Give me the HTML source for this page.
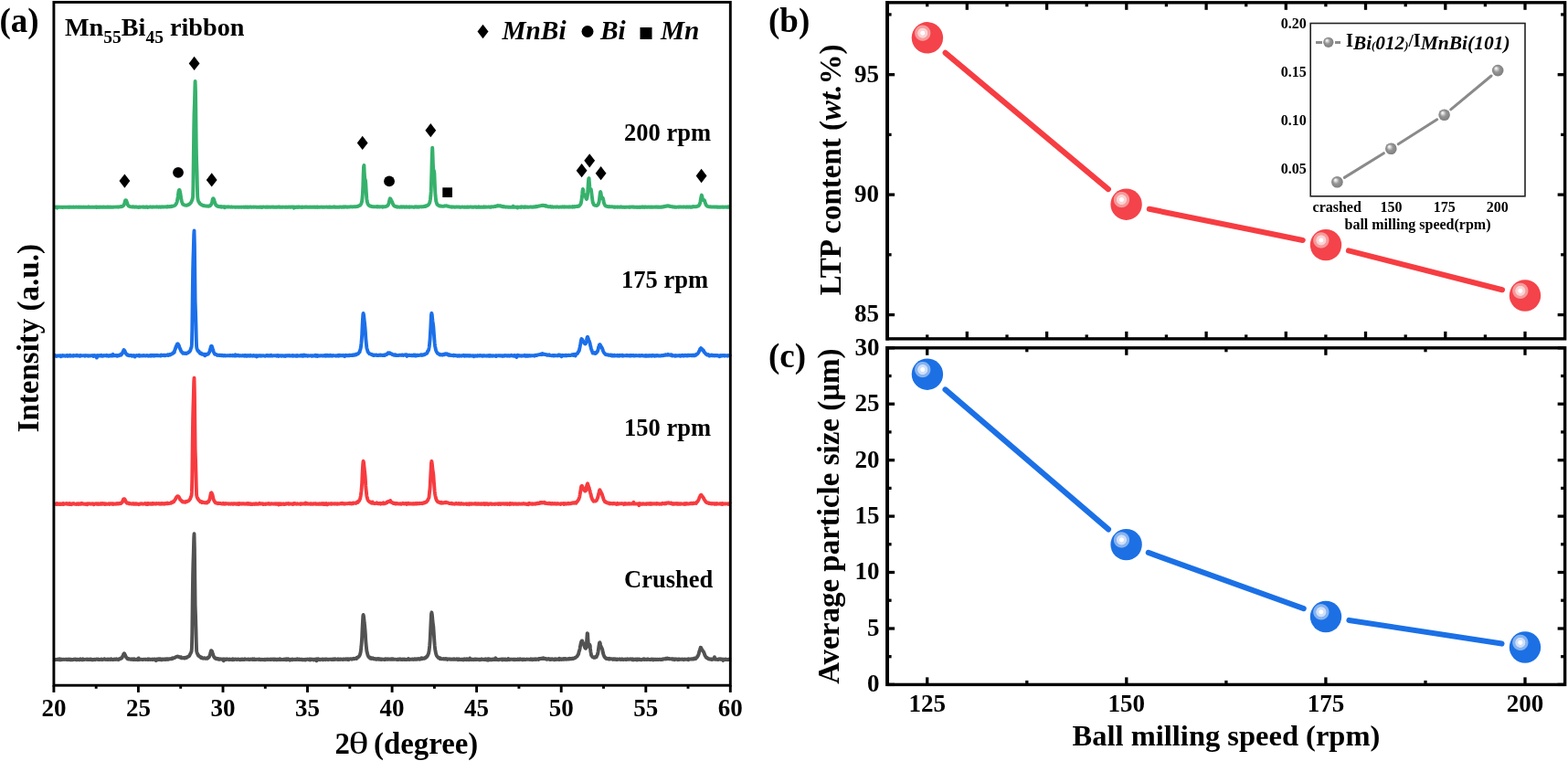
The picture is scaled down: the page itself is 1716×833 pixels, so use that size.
<!DOCTYPE html><html><head><meta charset="utf-8"><style>html,body{margin:0;padding:0;background:#fff}svg{display:block}</style></head><body><svg width="1716" height="833" viewBox="0 0 1716 833">
<defs>
<radialGradient id="gr" cx="0.35" cy="0.35" r="0.55" fx="0.35" fy="0.35"><stop offset="0" stop-color="#ffffff"/><stop offset="0.11" stop-color="#ffffff"/><stop offset="0.15" stop-color="#fcd3d4"/><stop offset="0.27" stop-color="#fcd3d4"/><stop offset="0.31" stop-color="#f79a9c"/><stop offset="0.43" stop-color="#f79a9c"/><stop offset="0.48" stop-color="#f4434a"/><stop offset="1" stop-color="#f4434a"/></radialGradient>
<radialGradient id="gb" cx="0.35" cy="0.35" r="0.55" fx="0.35" fy="0.35"><stop offset="0" stop-color="#ffffff"/><stop offset="0.11" stop-color="#ffffff"/><stop offset="0.15" stop-color="#cfe0fa"/><stop offset="0.27" stop-color="#cfe0fa"/><stop offset="0.31" stop-color="#86b3f0"/><stop offset="0.43" stop-color="#86b3f0"/><stop offset="0.48" stop-color="#1c70e4"/><stop offset="1" stop-color="#1c70e4"/></radialGradient>
<radialGradient id="gg" cx="0.5" cy="0.5" r="0.6" fx="0.33" fy="0.3"><stop offset="0" stop-color="#ffffff"/><stop offset="0.15" stop-color="#e2e2e2"/><stop offset="0.45" stop-color="#959595"/><stop offset="1" stop-color="#777"/></radialGradient>
</defs>
<rect width="1716" height="833" fill="#fff"/>
<g font-family="Liberation Serif, serif" font-weight="bold" fill="#000">
<path d="M58.9,226.7 59.3,226.7 59.6,226.7 60.0,226.8 60.4,226.7 60.8,226.8 61.1,226.7 61.5,226.5 61.9,226.7 62.2,226.8 62.6,227.6 63.0,226.6 63.3,226.7 63.7,226.8 64.1,226.7 64.5,226.6 64.8,226.8 65.2,226.7 65.6,226.9 65.9,226.8 66.3,226.9 66.7,226.7 67.0,226.8 67.4,226.7 67.8,226.7 68.2,226.7 68.5,227.0 68.9,226.8 69.3,226.7 69.6,226.7 70.0,226.9 70.4,226.7 70.7,226.8 71.1,226.8 71.5,226.6 71.9,226.8 72.2,226.7 72.6,226.6 73.0,226.8 73.3,226.7 73.7,226.7 74.1,226.7 74.4,226.8 74.8,226.7 75.2,226.5 75.6,226.9 75.9,226.6 76.3,226.7 76.7,226.8 77.0,226.4 77.4,226.6 77.8,226.8 78.2,226.7 78.5,226.6 78.9,226.7 79.3,226.6 79.6,226.7 80.0,226.6 80.4,226.5 80.7,226.8 81.1,226.7 81.5,226.7 81.9,226.7 82.2,226.8 82.6,226.8 83.0,226.7 83.3,226.6 83.7,226.5 84.1,226.8 84.4,226.8 84.8,226.6 85.2,226.9 85.6,226.7 85.9,226.7 86.3,226.5 86.7,226.6 87.0,226.7 87.4,226.7 87.8,226.7 88.1,226.5 88.5,226.7 88.9,226.7 89.3,226.6 89.6,226.7 90.0,226.7 90.4,226.8 90.7,226.7 91.1,226.7 91.5,226.5 91.8,226.6 92.2,226.7 92.6,226.6 93.0,226.7 93.3,226.6 93.7,226.7 94.1,226.6 94.4,226.8 94.8,226.6 95.2,226.9 95.5,226.9 95.9,226.7 96.3,226.8 96.7,226.7 97.0,226.4 97.4,226.8 97.8,226.8 98.1,226.7 98.5,226.6 98.9,226.7 99.3,226.7 99.6,226.6 100.0,226.6 100.4,226.8 100.7,226.7 101.1,226.7 101.5,226.8 101.8,226.6 102.2,226.8 102.6,226.6 103.0,226.6 103.3,226.7 103.7,226.7 104.1,226.7 104.4,226.9 104.8,226.8 105.2,226.6 105.5,226.9 105.9,226.6 106.3,226.9 106.7,226.6 107.0,226.8 107.4,226.6 107.8,226.7 108.1,226.9 108.5,226.5 108.9,226.5 109.2,226.7 109.6,226.7 110.0,226.7 110.4,226.8 110.7,226.5 111.1,226.7 111.5,226.7 111.8,226.8 112.2,226.7 112.6,226.8 112.9,226.5 113.3,226.7 113.7,226.5 114.1,226.7 114.4,226.7 114.8,226.7 115.2,226.7 115.5,226.7 115.9,226.7 116.3,226.7 116.7,226.8 117.0,226.7 117.4,226.4 117.8,226.7 118.1,226.8 118.5,226.6 118.9,226.5 119.2,226.8 119.6,226.7 120.0,226.7 120.4,226.8 120.7,226.5 121.1,226.6 121.5,226.6 121.8,226.7 122.2,226.6 122.6,226.7 122.9,226.6 123.3,226.7 123.7,226.8 124.1,226.5 124.4,226.7 124.8,226.6 125.2,226.6 125.5,226.6 125.9,226.6 126.3,226.5 126.6,226.6 127.0,226.6 127.4,226.6 127.8,226.4 128.1,226.5 128.5,226.5 128.9,226.6 129.2,226.7 129.6,226.4 130.0,226.4 130.3,226.5 130.7,226.4 131.1,226.3 131.5,226.3 131.8,226.2 132.2,226.4 132.6,226.1 132.9,226.3 133.3,226.0 133.7,225.9 134.1,225.8 134.4,225.4 134.8,225.2 135.2,225.1 135.5,224.6 135.9,223.5 136.3,222.6 136.6,221.2 137.0,219.7 137.4,219.2 137.8,219.1 138.1,219.3 138.5,220.2 138.9,221.3 139.2,222.5 139.6,223.6 140.0,224.5 140.3,224.9 140.7,225.5 141.1,225.8 141.5,225.8 141.8,226.0 142.2,226.0 142.6,226.3 142.9,226.3 143.3,226.4 143.7,226.4 144.0,226.3 144.4,226.5 144.8,226.4 145.2,226.4 145.5,226.2 145.9,226.6 146.3,226.4 146.6,226.5 147.0,226.5 147.4,226.7 147.7,226.6 148.1,226.4 148.5,226.6 148.9,226.5 149.2,226.6 149.6,226.4 150.0,226.6 150.3,226.8 150.7,226.7 151.1,226.8 151.4,227.0 151.8,226.6 152.2,226.4 152.6,226.6 152.9,226.7 153.3,226.7 153.7,226.5 154.0,226.6 154.4,226.6 154.8,226.6 155.2,226.6 155.5,226.5 155.9,226.5 156.3,226.6 156.6,226.7 157.0,226.5 157.4,226.7 157.7,226.5 158.1,226.7 158.5,226.6 158.9,226.6 159.2,226.8 159.6,226.4 160.0,226.4 160.3,226.6 160.7,226.5 161.1,226.5 161.4,226.9 161.8,226.6 162.2,226.6 162.6,226.6 162.9,226.7 163.3,226.6 163.7,226.6 164.0,226.4 164.4,226.5 164.8,226.6 165.1,226.4 165.5,226.6 165.9,226.6 166.3,226.8 166.6,226.4 167.0,226.5 167.4,226.5 167.7,226.5 168.1,226.6 168.5,226.5 168.8,226.6 169.2,226.6 169.6,226.6 170.0,226.4 170.3,226.5 170.7,226.6 171.1,226.6 171.4,226.6 171.8,226.3 172.2,226.5 172.6,226.5 172.9,226.6 173.3,226.7 173.7,226.5 174.0,226.4 174.4,226.6 174.8,226.5 175.1,226.5 175.5,226.5 175.9,226.7 176.3,226.5 176.6,226.6 177.0,226.4 177.4,226.6 177.7,226.4 178.1,226.3 178.5,226.5 178.8,226.5 179.2,226.4 179.6,226.4 180.0,226.5 180.3,226.4 180.7,226.2 181.1,226.4 181.4,226.4 181.8,226.5 182.2,226.3 182.5,226.5 182.9,226.5 183.3,226.1 183.7,226.4 184.0,226.1 184.4,226.1 184.8,226.2 185.1,226.1 185.5,225.9 185.9,226.2 186.2,226.2 186.6,226.2 187.0,226.0 187.4,225.8 187.7,225.8 188.1,226.0 188.5,225.9 188.8,225.8 189.2,225.6 189.6,225.6 190.0,225.4 190.3,225.3 190.7,225.2 191.1,225.0 191.4,224.8 191.8,224.5 192.2,224.1 192.5,223.4 192.9,223.0 193.3,222.1 193.7,221.1 194.0,219.3 194.4,217.5 194.8,215.0 195.1,212.0 195.5,209.5 195.9,208.0 196.2,207.8 196.6,208.3 197.0,209.8 197.4,211.7 197.7,213.8 198.1,216.4 198.5,218.6 198.8,220.3 199.2,221.4 199.6,222.4 199.9,223.2 200.3,223.5 200.7,224.0 201.1,224.0 201.4,224.2 201.8,224.3 202.2,224.6 202.5,224.6 202.9,224.7 203.3,224.7 203.6,224.7 204.0,224.8 204.4,224.8 204.8,224.4 205.1,224.5 205.5,224.3 205.9,224.1 206.2,224.2 206.6,223.9 207.0,223.6 207.4,223.3 207.7,223.1 208.1,222.6 208.5,222.3 208.8,221.9 209.2,221.3 209.6,220.4 209.9,219.7 210.3,219.0 210.7,217.6 211.1,215.6 211.4,204.1 211.8,172.9 212.2,140.7 212.5,124.9 212.9,113.2 213.3,97.8 213.6,88.9 214.0,99.7 214.4,131.0 214.8,162.4 215.1,176.1 215.5,187.4 215.9,204.3 216.2,215.3 216.6,218.5 217.0,219.7 217.3,220.5 217.7,221.2 218.1,221.8 218.5,222.4 218.8,222.9 219.2,223.2 219.6,223.6 219.9,223.9 220.3,224.0 220.7,224.1 221.0,224.6 221.4,224.6 221.8,224.8 222.2,225.0 222.5,224.9 222.9,225.2 223.3,225.0 223.6,225.4 224.0,225.3 224.4,225.4 224.7,225.5 225.1,225.4 225.5,225.6 225.9,225.5 226.2,225.6 226.6,225.7 227.0,225.6 227.3,225.6 227.7,225.5 228.1,225.7 228.5,225.5 228.8,225.7 229.2,225.3 229.6,225.4 229.9,225.3 230.3,224.9 230.7,224.4 231.0,224.1 231.4,223.3 231.8,222.1 232.2,220.7 232.5,219.0 232.9,217.8 233.3,217.2 233.6,217.4 234.0,218.2 234.4,219.0 234.7,220.3 235.1,221.6 235.5,222.9 235.9,223.4 236.2,224.4 236.6,224.8 237.0,225.2 237.3,225.4 237.7,225.6 238.1,225.5 238.4,226.0 238.8,226.1 239.2,226.1 239.6,226.2 239.9,226.0 240.3,226.1 240.7,226.3 241.0,226.4 241.4,226.3 241.8,226.1 242.1,226.7 242.5,226.3 242.9,226.5 243.3,226.2 243.6,226.5 244.0,226.4 244.4,226.6 244.7,226.5 245.1,226.3 245.5,226.3 245.9,227.3 246.2,226.6 246.6,226.7 247.0,226.5 247.3,226.5 247.7,226.5 248.1,226.5 248.4,226.6 248.8,226.5 249.2,226.5 249.6,226.4 249.9,226.3 250.3,226.5 250.7,226.6 251.0,226.5 251.4,226.6 251.8,226.6 252.1,226.6 252.5,226.7 252.9,226.5 253.3,226.6 253.6,226.5 254.0,226.6 254.4,226.7 254.7,226.7 255.1,226.6 255.5,226.6 255.8,226.6 256.2,226.6 256.6,226.7 257.0,226.6 257.3,226.7 257.7,226.7 258.1,226.6 258.4,226.8 258.8,226.6 259.2,226.6 259.5,226.6 259.9,226.7 260.3,226.6 260.7,226.7 261.0,226.6 261.4,226.7 261.8,226.6 262.1,226.8 262.5,226.6 262.9,226.6 263.3,226.6 263.6,226.7 264.0,226.6 264.4,226.8 264.7,226.6 265.1,226.6 265.5,226.6 265.8,226.6 266.2,226.7 266.6,226.7 267.0,226.5 267.3,226.6 267.7,226.6 268.1,226.8 268.4,226.6 268.8,226.5 269.2,226.5 269.5,226.6 269.9,226.8 270.3,226.5 270.7,226.7 271.0,226.9 271.4,226.6 271.8,226.8 272.1,226.8 272.5,226.7 272.9,226.5 273.2,226.7 273.6,226.6 274.0,226.4 274.4,226.5 274.7,226.7 275.1,226.7 275.5,226.8 275.8,226.7 276.2,226.6 276.6,226.6 276.9,226.6 277.3,226.5 277.7,226.7 278.1,226.7 278.4,226.6 278.8,226.6 279.2,226.5 279.5,226.6 279.9,226.7 280.3,226.6 280.6,226.8 281.0,226.8 281.4,226.6 281.8,226.7 282.1,226.6 282.5,226.9 282.9,226.7 283.2,226.7 283.6,226.8 284.0,226.9 284.4,226.7 284.7,226.5 285.1,226.6 285.5,226.7 285.8,226.7 286.2,226.6 286.6,227.0 286.9,226.7 287.3,226.6 287.7,226.6 288.1,226.5 288.4,226.5 288.8,226.6 289.2,226.6 289.5,226.6 289.9,226.7 290.3,226.7 290.6,226.6 291.0,226.4 291.4,226.7 291.8,226.7 292.1,226.6 292.5,226.5 292.9,226.7 293.2,226.5 293.6,226.8 294.0,226.7 294.3,226.7 294.7,226.6 295.1,226.5 295.5,226.8 295.8,226.8 296.2,226.6 296.6,226.7 296.9,226.8 297.3,226.5 297.7,226.6 298.0,226.6 298.4,226.7 298.8,226.5 299.2,226.7 299.5,226.5 299.9,226.8 300.3,226.8 300.6,226.6 301.0,226.8 301.4,226.6 301.8,226.6 302.1,226.8 302.5,226.7 302.9,226.7 303.2,226.6 303.6,226.7 304.0,226.7 304.3,226.5 304.7,226.4 305.1,226.4 305.5,226.7 305.8,226.6 306.2,226.5 306.6,226.7 306.9,226.8 307.3,226.7 307.7,226.6 308.0,226.8 308.4,226.9 308.8,226.8 309.2,226.6 309.5,226.8 309.9,226.7 310.3,226.6 310.6,226.6 311.0,226.7 311.4,226.6 311.7,226.8 312.1,226.7 312.5,226.8 312.9,226.5 313.2,226.7 313.6,226.8 314.0,226.7 314.3,226.7 314.7,226.6 315.1,226.9 315.4,226.8 315.8,226.7 316.2,226.4 316.6,226.6 316.9,226.7 317.3,226.6 317.7,226.4 318.0,226.7 318.4,226.7 318.8,226.5 319.2,226.6 319.5,226.6 319.9,226.7 320.3,226.4 320.6,226.5 321.0,226.6 321.4,226.6 321.7,227.7 322.1,226.6 322.5,226.7 322.9,226.6 323.2,226.6 323.6,226.7 324.0,226.9 324.3,226.6 324.7,226.8 325.1,226.7 325.4,226.7 325.8,226.7 326.2,226.9 326.6,226.5 326.9,226.6 327.3,226.5 327.7,226.4 328.0,226.7 328.4,226.9 328.8,226.8 329.1,226.8 329.5,226.7 329.9,226.7 330.3,226.9 330.6,226.6 331.0,226.9 331.4,226.6 331.7,226.7 332.1,226.7 332.5,226.7 332.8,226.7 333.2,226.7 333.6,226.9 334.0,226.7 334.3,226.4 334.7,226.4 335.1,226.5 335.4,226.6 335.8,226.8 336.2,226.5 336.5,226.7 336.9,226.7 337.3,226.7 337.7,226.7 338.0,226.7 338.4,226.7 338.8,226.8 339.1,226.7 339.5,226.4 339.9,226.7 340.3,226.7 340.6,226.6 341.0,226.6 341.4,226.8 341.7,226.9 342.1,226.6 342.5,226.6 342.8,226.7 343.2,226.5 343.6,226.7 344.0,226.7 344.3,226.7 344.7,226.5 345.1,226.9 345.4,226.7 345.8,226.7 346.2,226.6 346.5,226.6 346.9,226.5 347.3,226.9 347.7,226.6 348.0,226.7 348.4,226.7 348.8,226.6 349.1,226.8 349.5,226.9 349.9,226.7 350.2,226.8 350.6,226.7 351.0,226.6 351.4,226.6 351.7,226.5 352.1,226.7 352.5,226.8 352.8,226.8 353.2,226.8 353.6,226.8 353.9,226.6 354.3,226.7 354.7,226.9 355.1,226.6 355.4,226.7 355.8,226.6 356.2,226.6 356.5,226.6 356.9,226.7 357.3,226.5 357.7,226.6 358.0,226.6 358.4,226.6 358.8,226.8 359.1,226.7 359.5,226.7 359.9,226.6 360.2,226.8 360.6,226.5 361.0,226.6 361.4,226.8 361.7,226.9 362.1,226.7 362.5,226.7 362.8,226.7 363.2,226.6 363.6,226.7 363.9,226.6 364.3,226.7 364.7,226.6 365.1,226.5 365.4,226.3 365.8,226.8 366.2,226.7 366.5,226.7 366.9,226.5 367.3,226.8 367.6,226.7 368.0,226.6 368.4,226.8 368.8,226.7 369.1,226.7 369.5,226.9 369.9,226.8 370.2,226.7 370.6,226.6 371.0,226.6 371.3,226.8 371.7,226.7 372.1,226.5 372.5,226.6 372.8,226.6 373.2,226.7 373.6,226.5 373.9,226.7 374.3,226.7 374.7,226.7 375.1,226.4 375.4,226.6 375.8,226.5 376.2,226.7 376.5,226.5 376.9,226.7 377.3,226.6 377.6,226.3 378.0,226.5 378.4,226.6 378.8,226.6 379.1,226.5 379.5,226.4 379.9,226.6 380.2,226.8 380.6,226.6 381.0,226.5 381.3,226.5 381.7,226.4 382.1,226.5 382.5,226.4 382.8,226.6 383.2,226.4 383.6,226.2 383.9,226.4 384.3,226.4 384.7,226.4 385.0,226.2 385.4,226.5 385.8,226.4 386.2,226.3 386.5,226.3 386.9,226.4 387.3,226.3 387.6,226.4 388.0,226.3 388.4,226.3 388.7,226.4 389.1,226.2 389.5,226.1 389.9,226.2 390.2,226.1 390.6,225.9 391.0,226.1 391.3,225.9 391.7,225.9 392.1,225.6 392.5,225.3 392.8,225.2 393.2,225.3 393.6,225.0 393.9,224.8 394.3,224.4 394.7,223.8 395.0,223.6 395.4,222.6 395.8,221.5 396.2,219.6 396.5,216.7 396.9,211.8 397.3,203.6 397.6,192.6 398.0,182.5 398.4,181.0 398.7,188.0 399.1,194.7 399.5,196.8 399.9,197.1 400.2,200.2 400.6,206.7 401.0,212.7 401.3,217.4 401.7,220.3 402.1,221.9 402.4,222.9 402.8,223.9 403.2,224.1 403.6,224.7 403.9,225.1 404.3,225.0 404.7,225.4 405.0,225.7 405.4,225.7 405.8,225.6 406.1,225.7 406.5,226.0 406.9,225.9 407.3,225.9 407.6,226.2 408.0,226.1 408.4,226.2 408.7,226.3 409.1,226.3 409.5,226.2 409.8,226.3 410.2,226.4 410.6,226.4 411.0,226.2 411.3,226.3 411.7,226.2 412.1,226.2 412.4,226.3 412.8,226.1 413.2,226.5 413.6,226.3 413.9,226.4 414.3,226.2 414.7,226.2 415.0,226.6 415.4,226.5 415.8,226.3 416.1,226.3 416.5,226.3 416.9,226.4 417.3,226.3 417.6,226.3 418.0,226.4 418.4,226.2 418.7,226.6 419.1,226.3 419.5,226.4 419.8,226.2 420.2,226.3 420.6,226.4 421.0,226.2 421.3,226.3 421.7,226.2 422.1,226.2 422.4,226.0 422.8,225.8 423.2,225.6 423.5,225.6 423.9,225.2 424.3,225.0 424.7,224.5 425.0,223.7 425.4,222.6 425.8,221.4 426.1,219.7 426.5,218.2 426.9,217.2 427.2,217.5 427.6,218.0 428.0,218.9 428.4,219.4 428.7,220.1 429.1,220.8 429.5,221.9 429.8,223.1 430.2,223.7 430.6,224.5 431.0,224.8 431.3,225.3 431.7,225.7 432.1,225.8 432.4,225.9 432.8,226.0 433.2,226.1 433.5,226.2 433.9,226.4 434.3,226.3 434.7,226.6 435.0,226.3 435.4,226.4 435.8,226.5 436.1,226.4 436.5,226.4 436.9,226.6 437.2,226.7 437.6,226.6 438.0,226.7 438.4,226.6 438.7,226.3 439.1,226.6 439.5,226.4 439.8,226.7 440.2,226.5 440.6,226.6 440.9,226.5 441.3,226.5 441.7,226.3 442.1,226.5 442.4,226.5 442.8,226.7 443.2,226.5 443.5,226.6 443.9,226.4 444.3,226.5 444.6,226.3 445.0,226.8 445.4,226.6 445.8,226.4 446.1,226.6 446.5,226.6 446.9,226.6 447.2,226.7 447.6,226.5 448.0,226.3 448.4,226.4 448.7,226.7 449.1,226.6 449.5,226.6 449.8,226.4 450.2,226.6 450.6,226.6 450.9,226.4 451.3,226.4 451.7,226.6 452.1,226.7 452.4,226.7 452.8,226.6 453.2,226.8 453.5,226.4 453.9,226.6 454.3,226.4 454.6,226.3 455.0,226.3 455.4,226.6 455.8,226.4 456.1,226.7 456.5,226.5 456.9,226.6 457.2,226.5 457.6,226.6 458.0,226.2 458.3,226.7 458.7,226.5 459.1,226.4 459.5,226.4 459.8,226.3 460.2,226.3 460.6,226.3 460.9,226.2 461.3,226.5 461.7,226.2 462.0,226.3 462.4,226.2 462.8,226.1 463.2,226.2 463.5,226.2 463.9,225.9 464.3,225.9 464.6,226.0 465.0,225.6 465.4,225.5 465.7,225.9 466.1,225.6 466.5,225.2 466.9,225.3 467.2,225.2 467.6,225.1 468.0,224.9 468.3,224.6 468.7,224.3 469.1,223.7 469.5,223.3 469.8,222.6 470.2,221.8 470.6,220.3 470.9,218.5 471.3,215.1 471.7,209.4 472.0,200.4 472.4,186.8 472.8,170.7 473.2,161.6 473.5,167.6 473.9,179.6 474.3,187.2 474.6,188.8 475.0,187.0 475.4,190.0 475.7,198.5 476.1,207.1 476.5,213.5 476.9,217.5 477.2,220.1 477.6,221.4 478.0,222.7 478.3,223.6 478.7,223.9 479.1,224.5 479.4,224.6 479.8,224.7 480.2,225.0 480.6,225.4 480.9,225.5 481.3,225.3 481.7,225.6 482.0,225.7 482.4,225.6 482.8,225.5 483.1,225.7 483.5,225.8 483.9,225.8 484.3,225.8 484.6,225.9 485.0,225.9 485.4,225.8 485.7,225.8 486.1,225.6 486.5,225.6 486.9,225.2 487.2,225.6 487.6,225.4 488.0,225.4 488.3,225.3 488.7,225.3 489.1,225.5 489.4,225.6 489.8,225.8 490.2,225.8 490.6,225.8 490.9,225.9 491.3,226.1 491.7,226.2 492.0,226.2 492.4,226.2 492.8,226.4 493.1,226.4 493.5,226.6 493.9,226.6 494.3,226.3 494.6,226.7 495.0,226.5 495.4,226.5 495.7,226.6 496.1,226.6 496.5,226.5 496.8,226.5 497.2,226.6 497.6,226.8 498.0,226.6 498.3,226.7 498.7,226.6 499.1,226.5 499.4,226.5 499.8,226.5 500.2,226.6 500.5,226.5 500.9,226.4 501.3,226.5 501.7,226.4 502.0,226.6 502.4,226.6 502.8,226.5 503.1,226.8 503.5,226.6 503.9,226.7 504.3,226.8 504.6,226.8 505.0,226.7 505.4,226.6 505.7,226.5 506.1,226.5 506.5,226.6 506.8,226.6 507.2,226.7 507.6,226.6 508.0,226.7 508.3,226.6 508.7,226.4 509.1,226.6 509.4,226.8 509.8,226.7 510.2,226.8 510.5,226.8 510.9,226.5 511.3,226.6 511.7,226.8 512.0,226.6 512.4,226.5 512.8,226.7 513.1,226.7 513.5,226.7 513.9,226.6 514.2,226.6 514.6,226.5 515.0,226.5 515.4,226.5 515.7,226.5 516.1,226.6 516.5,226.8 516.8,226.7 517.2,226.6 517.6,226.7 517.9,226.5 518.3,226.7 518.7,226.8 519.1,226.5 519.4,226.6 519.8,226.6 520.2,226.5 520.5,226.5 520.9,226.6 521.3,226.9 521.6,226.7 522.0,226.9 522.4,226.8 522.8,226.6 523.1,226.5 523.5,226.7 523.9,226.8 524.2,226.4 524.6,226.7 525.0,226.8 525.4,226.6 525.7,226.6 526.1,226.7 526.5,226.5 526.8,226.7 527.2,226.8 527.6,226.6 527.9,226.6 528.3,226.7 528.7,226.6 529.1,226.7 529.4,226.3 529.8,226.7 530.2,226.5 530.5,226.6 530.9,226.7 531.3,226.5 531.6,226.5 532.0,226.5 532.4,226.6 532.8,226.7 533.1,226.7 533.5,226.6 533.9,226.6 534.2,226.5 534.6,226.6 535.0,226.5 535.3,226.4 535.7,226.6 536.1,226.8 536.5,226.7 536.8,226.8 537.2,226.4 537.6,226.7 537.9,226.4 538.3,226.4 538.7,226.3 539.0,226.3 539.4,226.4 539.8,226.4 540.2,226.3 540.5,226.2 540.9,226.2 541.3,226.1 541.6,225.8 542.0,226.1 542.4,225.8 542.8,225.8 543.1,225.6 543.5,225.4 543.9,225.4 544.2,225.2 544.6,225.5 545.0,225.1 545.3,225.3 545.7,225.1 546.1,225.2 546.5,225.5 546.8,225.4 547.2,225.3 547.6,225.2 547.9,225.5 548.3,225.6 548.7,225.9 549.0,225.6 549.4,225.7 549.8,226.0 550.2,226.1 550.5,226.4 550.9,226.1 551.3,226.0 551.6,226.3 552.0,226.3 552.4,226.4 552.7,226.6 553.1,226.4 553.5,226.7 553.9,226.6 554.2,226.5 554.6,226.5 555.0,226.5 555.3,226.6 555.7,226.7 556.1,226.8 556.4,226.6 556.8,226.7 557.2,226.8 557.6,226.8 557.9,226.7 558.3,226.9 558.7,226.8 559.0,226.8 559.4,226.6 559.8,226.6 560.2,226.4 560.5,226.8 560.9,226.7 561.3,226.5 561.6,225.7 562.0,226.7 562.4,226.4 562.7,226.7 563.1,226.8 563.5,226.8 563.9,226.6 564.2,226.6 564.6,226.8 565.0,226.8 565.3,226.6 565.7,226.6 566.1,226.7 566.4,227.4 566.8,226.6 567.2,226.9 567.6,226.7 567.9,226.6 568.3,226.7 568.7,226.9 569.0,226.7 569.4,226.6 569.8,226.5 570.1,226.9 570.5,226.3 570.9,226.8 571.3,226.5 571.6,226.6 572.0,226.5 572.4,226.6 572.7,226.8 573.1,226.6 573.5,226.7 573.8,226.9 574.2,226.3 574.6,226.5 575.0,226.4 575.3,226.7 575.7,226.5 576.1,226.4 576.4,226.4 576.8,226.6 577.2,226.8 577.6,226.6 577.9,226.9 578.3,226.8 578.7,226.6 579.0,226.7 579.4,226.6 579.8,226.6 580.1,226.4 580.5,226.4 580.9,226.6 581.3,226.4 581.6,226.7 582.0,226.6 582.4,226.5 582.7,226.7 583.1,226.6 583.5,226.7 583.8,226.5 584.2,226.3 584.6,226.6 585.0,226.4 585.3,226.5 585.7,226.5 586.1,226.5 586.4,226.1 586.8,225.7 587.2,226.1 587.5,226.2 587.9,226.0 588.3,226.0 588.7,225.8 589.0,225.8 589.4,225.7 589.8,225.5 590.1,225.6 590.5,225.5 590.9,225.5 591.2,225.3 591.6,225.3 592.0,225.1 592.4,225.1 592.7,224.9 593.1,224.8 593.5,225.0 593.8,225.0 594.2,225.0 594.6,224.8 594.9,224.7 595.3,224.9 595.7,225.1 596.1,225.0 596.4,225.4 596.8,225.1 597.2,225.5 597.5,225.8 597.9,225.3 598.3,225.5 598.7,225.9 599.0,225.9 599.4,226.0 599.8,226.0 600.1,226.3 600.5,226.3 600.9,226.2 601.2,226.3 601.6,226.2 602.0,226.4 602.4,226.1 602.7,226.5 603.1,226.4 603.5,226.7 603.8,226.6 604.2,226.3 604.6,226.6 604.9,226.5 605.3,226.5 605.7,226.7 606.1,226.6 606.4,226.6 606.8,226.6 607.2,226.5 607.5,226.5 607.9,226.6 608.3,226.7 608.6,226.5 609.0,226.6 609.4,226.5 609.8,226.3 610.1,226.5 610.5,226.6 610.9,226.6 611.2,226.7 611.6,226.7 612.0,226.7 612.3,226.6 612.7,226.6 613.1,226.5 613.5,226.6 613.8,226.6 614.2,226.7 614.6,226.4 614.9,226.5 615.3,226.3 615.7,226.5 616.1,226.4 616.4,226.6 616.8,226.5 617.2,226.2 617.5,226.7 617.9,226.4 618.3,226.3 618.6,226.5 619.0,226.4 619.4,226.4 619.8,226.6 620.1,226.5 620.5,226.6 620.9,226.6 621.2,226.6 621.6,226.5 622.0,226.5 622.3,226.4 622.7,226.7 623.1,226.2 623.5,226.3 623.8,226.4 624.2,226.5 624.6,226.4 624.9,226.4 625.3,226.4 625.7,226.6 626.0,226.3 626.4,226.0 626.8,226.6 627.2,226.2 627.5,226.3 627.9,226.3 628.3,226.1 628.6,226.4 629.0,226.2 629.4,226.0 629.7,226.2 630.1,226.2 630.5,226.1 630.9,226.1 631.2,225.8 631.6,226.0 632.0,225.7 632.3,225.9 632.7,225.5 633.1,225.5 633.5,225.7 633.8,225.2 634.2,225.1 634.6,224.7 634.9,224.0 635.3,223.8 635.7,222.9 636.0,221.3 636.4,219.4 636.8,216.3 637.2,212.7 637.5,209.0 637.9,206.9 638.3,207.9 638.6,210.8 639.0,213.3 639.4,214.5 639.7,214.3 640.1,213.6 640.5,213.2 640.9,214.6 641.2,216.5 641.6,217.6 642.0,217.9 642.3,217.2 642.7,215.4 643.1,212.0 643.4,206.8 643.8,200.8 644.2,195.7 644.6,195.1 644.9,199.3 645.3,204.2 645.7,207.4 646.0,208.6 646.4,208.1 646.8,207.3 647.1,208.8 647.5,212.2 647.9,215.6 648.3,218.6 648.6,220.8 649.0,222.1 649.4,223.0 649.7,223.9 650.1,224.1 650.5,224.4 650.8,224.6 651.2,224.9 651.6,224.9 652.0,224.9 652.3,224.9 652.7,225.0 653.1,224.7 653.4,224.9 653.8,224.6 654.2,224.1 654.6,223.9 654.9,223.2 655.3,221.9 655.7,220.4 656.0,217.9 656.4,214.6 656.8,211.2 657.1,209.9 657.5,210.9 657.9,213.6 658.3,216.0 658.6,217.2 659.0,217.3 659.4,216.6 659.7,216.7 660.1,217.8 660.5,219.7 660.8,221.6 661.2,222.9 661.6,223.7 662.0,224.5 662.3,225.1 662.7,225.3 663.1,225.6 663.4,225.6 663.8,225.7 664.2,226.0 664.5,226.0 664.9,225.9 665.3,226.2 665.7,226.1 666.0,226.3 666.4,226.3 666.8,226.3 667.1,226.0 667.5,226.4 667.9,226.4 668.2,226.4 668.6,226.4 669.0,226.3 669.4,226.4 669.7,226.2 670.1,226.4 670.5,226.3 670.8,226.4 671.2,226.4 671.6,226.7 672.0,226.5 672.3,226.5 672.7,226.5 673.1,226.8 673.4,226.4 673.8,226.6 674.2,226.6 674.5,226.6 674.9,226.6 675.3,226.5 675.7,226.7 676.0,226.7 676.4,226.5 676.8,226.5 677.1,226.6 677.5,226.6 677.9,226.7 678.2,226.6 678.6,226.4 679.0,226.7 679.4,226.4 679.7,226.5 680.1,226.6 680.5,226.5 680.8,226.8 681.2,226.8 681.6,226.8 681.9,226.7 682.3,226.6 682.7,226.7 683.1,226.6 683.4,226.9 683.8,226.6 684.2,226.8 684.5,226.7 684.9,226.7 685.3,226.8 685.6,226.8 686.0,226.7 686.4,226.6 686.8,226.6 687.1,226.6 687.5,226.7 687.9,226.7 688.2,226.7 688.6,226.6 689.0,226.9 689.4,226.5 689.7,226.7 690.1,226.7 690.5,226.6 690.8,226.5 691.2,226.6 691.6,226.5 691.9,226.6 692.3,226.5 692.7,226.5 693.1,226.7 693.4,226.5 693.8,226.6 694.2,226.6 694.5,226.8 694.9,226.7 695.3,226.6 695.6,226.8 696.0,226.6 696.4,226.6 696.8,226.6 697.1,226.9 697.5,226.7 697.9,226.6 698.2,226.7 698.6,226.6 699.0,226.9 699.3,226.6 699.7,226.7 700.1,226.5 700.5,226.9 700.8,226.6 701.2,226.7 701.6,226.6 701.9,226.8 702.3,226.7 702.7,226.4 703.0,226.8 703.4,226.7 703.8,226.7 704.2,226.8 704.5,226.5 704.9,226.4 705.3,226.7 705.6,226.9 706.0,226.5 706.4,226.5 706.7,226.6 707.1,226.5 707.5,226.8 707.9,226.7 708.2,226.8 708.6,226.8 709.0,226.5 709.3,226.7 709.7,226.4 710.1,226.6 710.5,226.7 710.8,226.6 711.2,226.4 711.6,226.6 711.9,226.8 712.3,226.6 712.7,226.5 713.0,226.7 713.4,226.7 713.8,226.5 714.2,226.6 714.5,226.8 714.9,226.7 715.3,226.7 715.6,226.6 716.0,226.6 716.4,226.5 716.7,226.6 717.1,226.8 717.5,226.6 717.9,226.5 718.2,226.6 718.6,226.5 719.0,226.7 719.3,226.7 719.7,226.5 720.1,226.8 720.4,226.9 720.8,226.5 721.2,226.7 721.6,226.6 721.9,226.8 722.3,226.7 722.7,226.7 723.0,226.6 723.4,226.5 723.8,226.8 724.1,226.4 724.5,226.6 724.9,226.6 725.3,226.3 725.6,226.3 726.0,226.5 726.4,226.0 726.7,226.2 727.1,226.0 727.5,226.0 727.9,225.7 728.2,225.9 728.6,225.6 729.0,225.8 729.3,225.5 729.7,225.6 730.1,225.5 730.4,225.2 730.8,225.4 731.2,225.5 731.6,225.2 731.9,225.5 732.3,225.7 732.7,225.6 733.0,225.9 733.4,225.7 733.8,225.8 734.1,226.1 734.5,226.1 734.9,226.1 735.3,226.2 735.6,226.4 736.0,226.3 736.4,226.6 736.7,226.5 737.1,226.5 737.5,226.5 737.8,226.5 738.2,226.7 738.6,226.5 739.0,226.6 739.3,226.7 739.7,226.8 740.1,226.7 740.4,226.6 740.8,226.7 741.2,226.6 741.5,226.5 741.9,226.5 742.3,226.4 742.7,226.7 743.0,226.8 743.4,226.5 743.8,226.6 744.1,226.5 744.5,226.6 744.9,226.5 745.3,226.5 745.6,226.5 746.0,226.6 746.4,226.6 746.7,226.6 747.1,226.6 747.5,226.5 747.8,226.7 748.2,226.4 748.6,226.6 749.0,226.5 749.3,226.6 749.7,226.6 750.1,226.4 750.4,226.6 750.8,226.8 751.2,226.7 751.5,226.6 751.9,226.3 752.3,226.6 752.7,226.5 753.0,226.7 753.4,226.5 753.8,226.5 754.1,226.4 754.5,226.6 754.9,226.5 755.2,226.5 755.6,226.7 756.0,226.5 756.4,226.6 756.7,226.8 757.1,226.4 757.5,226.4 757.8,226.5 758.2,226.1 758.6,226.3 758.9,226.4 759.3,226.3 759.7,226.2 760.1,226.4 760.4,226.2 760.8,226.3 761.2,226.3 761.5,226.2 761.9,226.2 762.3,226.0 762.7,226.0 763.0,225.9 763.4,225.8 763.8,225.6 764.1,225.6 764.5,225.3 764.9,224.9 765.2,224.5 765.6,223.7 766.0,222.7 766.4,220.9 766.7,219.1 767.1,216.9 767.5,214.9 767.8,213.6 768.2,214.4 768.6,216.1 768.9,217.8 769.3,218.9 769.7,219.2 770.1,219.3 770.4,218.8 770.8,219.2 771.2,219.8 771.5,221.2 771.9,222.2 772.3,223.5 772.6,224.2 773.0,224.7 773.4,225.0 773.8,225.6 774.1,225.7 774.5,226.0 774.9,225.9 775.2,226.1 775.6,226.2 776.0,226.3 776.3,226.3 776.7,226.4 777.1,226.3 777.5,226.2 777.8,226.6 778.2,226.4 778.6,226.5 778.9,226.4 779.3,226.6 779.7,226.5 780.0,226.6 780.4,226.4 780.8,226.5 781.2,226.6 781.5,226.5 781.9,226.6 782.3,226.7 782.6,226.5 783.0,226.5 783.4,226.6 783.8,226.5 784.1,226.4 784.5,226.7 784.9,226.7 785.2,226.4 785.6,226.4 786.0,226.7 786.3,226.8 786.7,226.7 787.1,226.7 787.5,226.8 787.8,226.6 788.2,226.8 788.6,226.8 788.9,226.5 789.3,226.7 789.7,226.6 790.0,226.6 790.4,226.5 790.8,226.7 791.2,226.6 791.5,226.7 791.9,226.4 792.3,226.6 792.6,226.8 793.0,226.7 793.4,226.6 793.7,226.6 794.1,226.4 794.5,226.5 794.9,226.7 795.2,226.7 795.6,226.8 796.0,226.6 796.3,226.6 796.7,226.3 797.1,226.7 797.4,226.9 797.8,226.7 798.2,226.7 798.6,226.8 798.9,226.8 799.3,226.7" fill="none" stroke="#36b16c" stroke-width="3.9" stroke-linejoin="round"/>
<path d="M58.9,389.4 59.3,389.6 59.6,389.3 60.0,389.1 60.4,389.5 60.8,389.6 61.1,389.3 61.5,389.7 61.9,389.9 62.2,389.5 62.6,389.5 63.0,389.4 63.3,389.5 63.7,389.3 64.1,389.4 64.5,389.5 64.8,389.5 65.2,389.2 65.6,389.2 65.9,389.2 66.3,389.2 66.7,390.1 67.0,389.6 67.4,389.4 67.8,389.3 68.2,389.7 68.5,389.1 68.9,389.3 69.3,389.5 69.6,389.3 70.0,389.4 70.4,389.5 70.7,389.3 71.1,389.5 71.5,389.7 71.9,389.5 72.2,389.4 72.6,389.6 73.0,389.1 73.3,389.6 73.7,389.0 74.1,389.2 74.4,389.6 74.8,389.3 75.2,389.1 75.6,389.4 75.9,389.6 76.3,389.3 76.7,388.9 77.0,389.7 77.4,389.2 77.8,389.4 78.2,389.4 78.5,389.5 78.9,389.4 79.3,389.1 79.6,389.2 80.0,389.6 80.4,389.0 80.7,389.6 81.1,389.2 81.5,389.3 81.9,389.1 82.2,389.3 82.6,389.1 83.0,389.4 83.3,389.1 83.7,389.3 84.1,388.9 84.4,389.5 84.8,389.1 85.2,389.3 85.6,389.3 85.9,389.5 86.3,389.3 86.7,389.7 87.0,389.7 87.4,389.2 87.8,389.7 88.1,389.0 88.5,389.4 88.9,389.3 89.3,389.3 89.6,389.3 90.0,389.4 90.4,389.4 90.7,389.4 91.1,389.1 91.5,389.1 91.8,389.1 92.2,389.3 92.6,389.4 93.0,389.7 93.3,389.2 93.7,389.2 94.1,389.4 94.4,389.2 94.8,389.1 95.2,389.3 95.5,389.1 95.9,389.3 96.3,389.7 96.7,389.5 97.0,389.4 97.4,389.2 97.8,389.5 98.1,389.4 98.5,389.6 98.9,389.4 99.3,389.3 99.6,389.1 100.0,389.2 100.4,389.3 100.7,389.3 101.1,389.3 101.5,389.3 101.8,389.0 102.2,389.9 102.6,389.4 103.0,389.3 103.3,389.1 103.7,389.6 104.1,389.3 104.4,389.2 104.8,389.4 105.2,389.8 105.5,389.4 105.9,391.6 106.3,389.2 106.7,389.5 107.0,389.0 107.4,389.3 107.8,389.5 108.1,389.5 108.5,389.6 108.9,389.3 109.2,389.0 109.6,389.4 110.0,389.1 110.4,389.5 110.7,389.3 111.1,388.8 111.5,389.6 111.8,389.1 112.2,389.1 112.6,389.7 112.9,389.6 113.3,389.5 113.7,389.1 114.1,389.4 114.4,389.4 114.8,389.2 115.2,389.3 115.5,389.3 115.9,389.4 116.3,389.1 116.7,389.5 117.0,388.9 117.4,389.4 117.8,389.5 118.1,389.2 118.5,389.2 118.9,389.7 119.2,389.3 119.6,389.6 120.0,389.5 120.4,389.1 120.7,389.5 121.1,389.2 121.5,389.4 121.8,388.9 122.2,389.3 122.6,389.5 122.9,389.5 123.3,389.5 123.7,387.8 124.1,389.3 124.4,389.0 124.8,389.2 125.2,389.2 125.5,389.2 125.9,389.3 126.3,389.2 126.6,389.0 127.0,389.0 127.4,389.3 127.8,389.6 128.1,389.3 128.5,389.1 128.9,389.7 129.2,389.2 129.6,388.9 130.0,389.1 130.3,389.2 130.7,388.5 131.1,388.5 131.5,388.8 131.8,388.3 132.2,388.2 132.6,388.5 132.9,387.3 133.3,387.6 133.7,387.0 134.1,386.4 134.4,385.3 134.8,384.7 135.2,383.6 135.5,383.0 135.9,383.3 136.3,383.9 136.6,384.2 137.0,385.5 137.4,386.0 137.8,387.0 138.1,387.4 138.5,387.9 138.9,388.2 139.2,388.4 139.6,388.8 140.0,388.3 140.3,388.7 140.7,388.9 141.1,389.2 141.5,389.1 141.8,389.2 142.2,389.1 142.6,389.0 142.9,389.1 143.3,389.3 143.7,389.1 144.0,389.5 144.4,389.8 144.8,389.2 145.2,389.6 145.5,389.4 145.9,389.5 146.3,389.1 146.6,389.5 147.0,389.2 147.4,389.3 147.7,390.5 148.1,389.6 148.5,389.1 148.9,389.2 149.2,389.1 149.6,388.9 150.0,389.2 150.3,389.2 150.7,389.3 151.1,389.2 151.4,389.3 151.8,389.5 152.2,388.8 152.6,389.7 152.9,389.2 153.3,389.2 153.7,389.2 154.0,389.5 154.4,389.3 154.8,389.4 155.2,389.5 155.5,389.3 155.9,389.4 156.3,389.4 156.6,389.1 157.0,389.5 157.4,389.2 157.7,389.4 158.1,389.2 158.5,389.2 158.9,389.2 159.2,389.5 159.6,389.4 160.0,389.4 160.3,389.2 160.7,389.1 161.1,389.0 161.4,389.4 161.8,389.2 162.2,389.6 162.6,389.7 162.9,389.4 163.3,389.4 163.7,389.6 164.0,389.6 164.4,389.1 164.8,389.4 165.1,389.6 165.5,388.7 165.9,389.2 166.3,389.3 166.6,389.1 167.0,389.4 167.4,388.9 167.7,389.5 168.1,389.5 168.5,389.2 168.8,389.4 169.2,388.9 169.6,389.5 170.0,389.3 170.3,389.1 170.7,389.0 171.1,388.9 171.4,389.1 171.8,388.7 172.2,389.3 172.6,389.1 172.9,388.9 173.3,389.2 173.7,389.2 174.0,389.2 174.4,389.2 174.8,389.3 175.1,389.2 175.5,389.4 175.9,389.0 176.3,389.4 176.6,388.6 177.0,388.7 177.4,388.8 177.7,389.1 178.1,389.1 178.5,388.7 178.8,388.9 179.2,388.8 179.6,389.1 180.0,388.7 180.3,389.1 180.7,388.8 181.1,389.2 181.4,389.0 181.8,388.7 182.2,388.8 182.5,388.8 182.9,388.5 183.3,388.7 183.7,388.3 184.0,389.1 184.4,388.4 184.8,388.3 185.1,388.7 185.5,388.6 185.9,388.0 186.2,388.4 186.6,388.2 187.0,387.8 187.4,387.8 187.7,387.5 188.1,387.6 188.5,387.1 188.8,386.7 189.2,386.5 189.6,386.7 190.0,385.6 190.3,385.2 190.7,385.9 191.1,383.5 191.4,383.4 191.8,381.7 192.2,381.2 192.5,379.7 192.9,379.0 193.3,378.3 193.7,377.2 194.0,376.6 194.4,376.3 194.8,376.4 195.1,377.2 195.5,377.6 195.9,378.4 196.2,379.6 196.6,380.8 197.0,381.8 197.4,382.3 197.7,383.1 198.1,384.2 198.5,384.9 198.8,384.9 199.2,385.9 199.6,385.9 199.9,386.4 200.3,386.8 200.7,386.6 201.1,386.8 201.4,386.5 201.8,386.4 202.2,387.0 202.5,386.7 202.9,386.7 203.3,387.0 203.6,387.1 204.0,386.5 204.4,386.8 204.8,386.6 205.1,386.5 205.5,386.3 205.9,386.2 206.2,385.6 206.6,385.2 207.0,385.2 207.4,385.0 207.7,384.2 208.1,383.9 208.5,383.0 208.8,381.8 209.2,380.6 209.6,379.9 209.9,377.1 210.3,360.5 210.7,326.8 211.1,298.0 211.4,284.5 211.8,272.2 212.2,257.2 212.5,252.5 212.9,268.3 213.3,302.8 213.6,329.8 214.0,341.0 214.4,354.4 214.8,371.1 215.1,379.2 215.5,381.6 215.9,382.7 216.2,383.5 216.6,383.9 217.0,384.7 217.3,384.9 217.7,384.4 218.1,385.6 218.5,386.3 218.8,386.6 219.2,387.1 219.6,387.1 219.9,386.9 220.3,386.6 220.7,387.7 221.0,387.7 221.4,387.5 221.8,387.6 222.2,387.9 222.5,387.8 222.9,388.3 223.3,388.0 223.6,387.8 224.0,387.7 224.4,389.3 224.7,388.1 225.1,388.0 225.5,387.8 225.9,387.9 226.2,388.1 226.6,387.8 227.0,387.6 227.3,387.8 227.7,387.7 228.1,387.0 228.5,386.6 228.8,385.9 229.2,385.3 229.6,384.3 229.9,382.9 230.3,381.5 230.7,380.0 231.0,378.9 231.4,378.8 231.8,378.9 232.2,380.2 232.5,381.1 232.9,382.5 233.3,383.4 233.6,384.8 234.0,385.9 234.4,386.4 234.7,387.1 235.1,387.7 235.5,387.5 235.9,387.9 236.2,387.9 236.6,388.1 237.0,388.3 237.3,388.5 237.7,388.9 238.1,388.5 238.4,388.7 238.8,388.6 239.2,388.8 239.6,389.0 239.9,389.1 240.3,388.8 240.7,388.7 241.0,389.0 241.4,388.9 241.8,388.7 242.1,389.2 242.5,389.1 242.9,389.3 243.3,388.8 243.6,389.0 244.0,389.2 244.4,389.5 244.7,389.2 245.1,388.9 245.5,389.2 245.9,389.2 246.2,389.0 246.6,389.4 247.0,389.2 247.3,389.1 247.7,389.4 248.1,389.4 248.4,389.1 248.8,389.2 249.2,389.3 249.6,389.2 249.9,389.2 250.3,389.4 250.7,389.4 251.0,389.1 251.4,389.0 251.8,388.9 252.1,389.4 252.5,389.0 252.9,389.1 253.3,389.2 253.6,389.2 254.0,389.1 254.4,388.9 254.7,389.5 255.1,389.1 255.5,389.3 255.8,389.3 256.2,389.0 256.6,389.1 257.0,389.5 257.3,389.3 257.7,388.3 258.1,389.6 258.4,389.1 258.8,389.3 259.2,389.3 259.5,389.2 259.9,388.9 260.3,389.3 260.7,389.4 261.0,388.9 261.4,389.4 261.8,389.4 262.1,389.6 262.5,389.1 262.9,389.2 263.3,389.2 263.6,389.3 264.0,389.3 264.4,389.5 264.7,389.5 265.1,389.2 265.5,389.3 265.8,389.0 266.2,389.5 266.6,389.4 267.0,389.5 267.3,389.0 267.7,389.6 268.1,389.2 268.4,389.0 268.8,389.4 269.2,389.2 269.5,389.8 269.9,389.4 270.3,389.7 270.7,389.3 271.0,389.3 271.4,389.5 271.8,389.1 272.1,389.3 272.5,389.4 272.9,389.4 273.2,389.7 273.6,389.4 274.0,388.9 274.4,389.5 274.7,389.2 275.1,389.5 275.5,389.2 275.8,389.2 276.2,389.4 276.6,389.7 276.9,389.5 277.3,389.1 277.7,389.4 278.1,389.2 278.4,389.4 278.8,389.7 279.2,389.3 279.5,389.3 279.9,389.5 280.3,389.4 280.6,389.3 281.0,390.5 281.4,389.3 281.8,389.4 282.1,389.9 282.5,389.4 282.9,389.5 283.2,389.5 283.6,389.3 284.0,389.5 284.4,389.2 284.7,389.1 285.1,389.3 285.5,389.7 285.8,389.5 286.2,389.2 286.6,389.4 286.9,389.5 287.3,389.4 287.7,389.2 288.1,389.3 288.4,389.2 288.8,389.5 289.2,389.4 289.5,389.4 289.9,389.4 290.3,389.8 290.6,389.4 291.0,389.6 291.4,389.1 291.8,389.0 292.1,389.0 292.5,389.2 292.9,389.5 293.2,389.1 293.6,389.4 294.0,389.2 294.3,389.6 294.7,389.5 295.1,389.3 295.5,389.0 295.8,389.4 296.2,388.9 296.6,388.8 296.9,389.6 297.3,389.4 297.7,389.6 298.0,389.4 298.4,389.5 298.8,389.4 299.2,389.1 299.5,389.2 299.9,389.3 300.3,389.4 300.6,389.3 301.0,389.3 301.4,389.2 301.8,389.4 302.1,389.3 302.5,389.6 302.9,389.2 303.2,389.0 303.6,389.3 304.0,389.7 304.3,389.1 304.7,389.4 305.1,390.0 305.5,389.4 305.8,389.2 306.2,389.3 306.6,389.1 306.9,389.2 307.3,389.3 307.7,389.8 308.0,389.6 308.4,389.3 308.8,389.2 309.2,389.6 309.5,389.5 309.9,389.3 310.3,389.8 310.6,389.8 311.0,389.4 311.4,389.3 311.7,389.5 312.1,389.9 312.5,389.4 312.9,389.7 313.2,389.2 313.6,389.4 314.0,389.3 314.3,389.2 314.7,389.5 315.1,389.2 315.4,389.1 315.8,389.3 316.2,389.1 316.6,389.5 316.9,389.2 317.3,389.3 317.7,389.6 318.0,389.4 318.4,389.5 318.8,389.5 319.2,389.3 319.5,389.1 319.9,389.4 320.3,389.3 320.6,389.7 321.0,389.3 321.4,389.1 321.7,389.2 322.1,389.3 322.5,389.5 322.9,389.6 323.2,389.4 323.6,389.7 324.0,389.6 324.3,389.2 324.7,389.6 325.1,389.0 325.4,389.7 325.8,389.3 326.2,389.6 326.6,389.3 326.9,389.6 327.3,389.4 327.7,389.4 328.0,389.5 328.4,389.2 328.8,389.0 329.1,389.5 329.5,389.2 329.9,389.3 330.3,389.4 330.6,388.9 331.0,389.8 331.4,389.5 331.7,389.8 332.1,389.4 332.5,389.4 332.8,388.5 333.2,389.3 333.6,389.0 334.0,389.1 334.3,389.5 334.7,389.3 335.1,389.0 335.4,389.3 335.8,389.3 336.2,389.2 336.5,389.7 336.9,389.5 337.3,389.3 337.7,389.2 338.0,389.6 338.4,389.4 338.8,389.4 339.1,389.4 339.5,389.2 339.9,389.3 340.3,389.3 340.6,389.7 341.0,389.6 341.4,389.3 341.7,389.7 342.1,389.3 342.5,389.5 342.8,389.5 343.2,389.2 343.6,389.5 344.0,389.5 344.3,389.5 344.7,389.3 345.1,388.7 345.4,389.8 345.8,389.4 346.2,389.4 346.5,389.1 346.9,389.4 347.3,389.9 347.7,389.1 348.0,389.6 348.4,389.4 348.8,389.6 349.1,389.6 349.5,389.5 349.9,389.2 350.2,389.2 350.6,389.5 351.0,389.2 351.4,389.4 351.7,389.3 352.1,389.3 352.5,389.2 352.8,389.5 353.2,389.4 353.6,389.3 353.9,389.3 354.3,389.5 354.7,389.0 355.1,389.4 355.4,389.2 355.8,389.3 356.2,389.1 356.5,389.8 356.9,388.9 357.3,389.4 357.7,389.6 358.0,389.3 358.4,388.8 358.8,389.2 359.1,389.6 359.5,389.4 359.9,389.0 360.2,389.6 360.6,389.4 361.0,389.4 361.4,388.8 361.7,389.4 362.1,389.0 362.5,389.5 362.8,389.5 363.2,389.1 363.6,389.2 363.9,389.7 364.3,389.2 364.7,389.2 365.1,389.4 365.4,389.2 365.8,389.2 366.2,389.4 366.5,389.4 366.9,389.4 367.3,389.3 367.6,389.6 368.0,389.3 368.4,389.6 368.8,389.3 369.1,389.3 369.5,389.5 369.9,389.1 370.2,388.8 370.6,389.0 371.0,389.6 371.3,389.0 371.7,388.8 372.1,389.3 372.5,389.4 372.8,389.2 373.2,388.9 373.6,389.1 373.9,389.3 374.3,389.4 374.7,389.3 375.1,389.1 375.4,388.8 375.8,389.4 376.2,389.2 376.5,389.3 376.9,389.3 377.3,390.1 377.6,389.0 378.0,389.5 378.4,389.4 378.8,388.9 379.1,389.1 379.5,389.0 379.9,389.2 380.2,389.2 380.6,389.0 381.0,389.2 381.3,389.3 381.7,389.0 382.1,388.8 382.5,389.2 382.8,388.8 383.2,388.8 383.6,389.1 383.9,388.9 384.3,388.9 384.7,388.7 385.0,388.7 385.4,389.1 385.8,389.1 386.2,388.5 386.5,388.7 386.9,388.6 387.3,388.5 387.6,388.2 388.0,388.8 388.4,388.2 388.7,388.5 389.1,388.1 389.5,387.9 389.9,388.3 390.2,387.5 390.6,387.8 391.0,387.7 391.3,387.4 391.7,387.4 392.1,387.1 392.5,386.4 392.8,386.0 393.2,385.8 393.6,385.3 393.9,383.7 394.3,382.8 394.7,381.3 395.0,379.4 395.4,376.0 395.8,371.4 396.2,365.8 396.5,358.0 396.9,350.7 397.3,344.6 397.6,342.9 398.0,344.6 398.4,347.9 398.7,350.9 399.1,354.2 399.5,358.5 399.9,363.6 400.2,369.0 400.6,373.4 401.0,377.4 401.3,380.3 401.7,382.1 402.1,383.2 402.4,384.7 402.8,385.3 403.2,386.0 403.6,386.3 403.9,386.7 404.3,387.2 404.7,387.3 405.0,387.3 405.4,387.4 405.8,387.6 406.1,387.8 406.5,388.2 406.9,388.3 407.3,388.1 407.6,388.6 408.0,388.4 408.4,388.9 408.7,388.6 409.1,388.7 409.5,388.9 409.8,388.5 410.2,388.9 410.6,388.8 411.0,388.8 411.3,388.9 411.7,388.5 412.1,388.9 412.4,388.8 412.8,389.1 413.2,389.0 413.6,389.0 413.9,389.0 414.3,389.0 414.7,388.9 415.0,388.6 415.4,388.9 415.8,388.9 416.1,389.0 416.5,388.4 416.9,388.6 417.3,388.8 417.6,388.7 418.0,389.0 418.4,388.9 418.7,388.8 419.1,388.8 419.5,389.0 419.8,388.9 420.2,388.6 420.6,388.5 421.0,389.0 421.3,388.4 421.7,388.1 422.1,388.3 422.4,388.0 422.8,388.2 423.2,387.5 423.5,387.6 423.9,387.5 424.3,387.1 424.7,386.3 425.0,386.8 425.4,386.8 425.8,386.4 426.1,386.4 426.5,386.2 426.9,386.9 427.2,387.1 427.6,387.1 428.0,387.1 428.4,387.3 428.7,387.4 429.1,388.1 429.5,388.2 429.8,388.2 430.2,388.1 430.6,388.3 431.0,388.6 431.3,388.8 431.7,388.5 432.1,388.5 432.4,388.2 432.8,388.9 433.2,388.5 433.5,389.1 433.9,389.0 434.3,389.1 434.7,389.0 435.0,389.1 435.4,389.1 435.8,388.9 436.1,389.0 436.5,388.8 436.9,388.9 437.2,388.9 437.6,388.6 438.0,388.8 438.4,388.8 438.7,388.8 439.1,388.8 439.5,388.7 439.8,388.9 440.2,388.5 440.6,388.4 440.9,388.4 441.3,388.8 441.7,389.0 442.1,388.7 442.4,388.6 442.8,388.4 443.2,388.6 443.5,388.7 443.9,388.3 444.3,388.7 444.6,388.4 445.0,388.4 445.4,389.9 445.8,388.6 446.1,388.8 446.5,388.9 446.9,389.1 447.2,389.1 447.6,388.7 448.0,388.9 448.4,388.7 448.7,389.0 449.1,388.9 449.5,388.9 449.8,389.2 450.2,389.3 450.6,388.8 450.9,388.9 451.3,389.2 451.7,389.0 452.1,388.8 452.4,388.6 452.8,389.2 453.2,388.9 453.5,388.5 453.9,389.0 454.3,388.7 454.6,389.6 455.0,388.7 455.4,389.0 455.8,389.4 456.1,388.8 456.5,388.7 456.9,388.7 457.2,388.7 457.6,388.9 458.0,389.1 458.3,389.0 458.7,388.9 459.1,388.8 459.5,388.9 459.8,388.8 460.2,388.6 460.6,388.7 460.9,388.2 461.3,388.2 461.7,388.9 462.0,388.7 462.4,388.8 462.8,388.7 463.2,388.3 463.5,388.5 463.9,388.4 464.3,388.2 464.6,387.8 465.0,388.0 465.4,387.8 465.7,387.4 466.1,387.3 466.5,387.0 466.9,386.6 467.2,386.7 467.6,386.0 468.0,384.6 468.3,384.7 468.7,383.9 469.1,383.1 469.5,381.0 469.8,379.2 470.2,375.4 470.6,371.1 470.9,365.4 471.3,359.0 471.7,350.4 472.0,344.4 472.4,342.8 472.8,344.7 473.2,348.9 473.5,351.8 473.9,354.2 474.3,357.5 474.6,361.3 475.0,366.8 475.4,372.0 475.7,375.7 476.1,378.8 476.5,380.9 476.9,382.9 477.2,383.7 477.6,384.6 478.0,385.4 478.3,385.8 478.7,386.5 479.1,387.0 479.4,387.0 479.8,387.2 480.2,387.5 480.6,387.8 480.9,388.2 481.3,387.8 481.7,388.0 482.0,388.4 482.4,388.2 482.8,388.1 483.1,388.3 483.5,388.1 483.9,388.1 484.3,388.6 484.6,388.3 485.0,388.1 485.4,387.9 485.7,387.7 486.1,388.3 486.5,387.8 486.9,387.5 487.2,387.3 487.6,387.2 488.0,387.7 488.3,387.6 488.7,387.8 489.1,387.4 489.4,388.0 489.8,387.6 490.2,387.8 490.6,388.0 490.9,388.8 491.3,388.6 491.7,388.4 492.0,389.0 492.4,388.8 492.8,388.9 493.1,388.7 493.5,388.9 493.9,389.0 494.3,389.1 494.6,389.1 495.0,389.1 495.4,389.0 495.7,389.2 496.1,388.9 496.5,389.5 496.8,388.9 497.2,389.2 497.6,388.9 498.0,389.2 498.3,389.0 498.7,388.9 499.1,389.3 499.4,389.2 499.8,389.3 500.2,389.2 500.5,389.6 500.9,389.3 501.3,389.3 501.7,389.4 502.0,389.3 502.4,389.6 502.8,389.0 503.1,389.2 503.5,389.6 503.9,389.5 504.3,389.5 504.6,389.2 505.0,389.6 505.4,389.2 505.7,389.4 506.1,389.4 506.5,389.2 506.8,389.3 507.2,388.9 507.6,389.2 508.0,389.6 508.3,389.1 508.7,389.6 509.1,389.3 509.4,389.6 509.8,389.5 510.2,389.0 510.5,389.4 510.9,389.5 511.3,389.4 511.7,389.4 512.0,389.0 512.4,389.6 512.8,389.6 513.1,389.2 513.5,389.7 513.9,389.4 514.2,389.1 514.6,389.3 515.0,389.4 515.4,389.5 515.7,389.5 516.1,389.5 516.5,389.3 516.8,389.1 517.2,389.1 517.6,389.5 517.9,389.5 518.3,389.2 518.7,390.2 519.1,389.4 519.4,389.4 519.8,389.6 520.2,389.6 520.5,389.3 520.9,389.7 521.3,389.5 521.6,389.5 522.0,389.3 522.4,389.6 522.8,389.1 523.1,389.4 523.5,389.4 523.9,389.4 524.2,389.5 524.6,389.6 525.0,389.1 525.4,389.3 525.7,389.4 526.1,389.1 526.5,389.5 526.8,389.2 527.2,389.4 527.6,389.5 527.9,389.2 528.3,389.7 528.7,389.2 529.1,389.5 529.4,389.3 529.8,389.1 530.2,389.2 530.5,389.5 530.9,389.4 531.3,389.4 531.6,389.6 532.0,389.6 532.4,389.4 532.8,389.2 533.1,389.7 533.5,389.4 533.9,389.3 534.2,389.3 534.6,389.6 535.0,389.1 535.3,389.6 535.7,389.2 536.1,389.0 536.5,389.8 536.8,389.3 537.2,389.3 537.6,389.3 537.9,389.5 538.3,389.4 538.7,389.7 539.0,389.3 539.4,389.3 539.8,389.5 540.2,389.6 540.5,389.5 540.9,389.4 541.3,389.4 541.6,389.4 542.0,389.4 542.4,389.7 542.8,390.0 543.1,389.2 543.5,389.1 543.9,389.7 544.2,389.5 544.6,389.3 545.0,389.2 545.3,389.2 545.7,389.1 546.1,389.4 546.5,389.3 546.8,389.3 547.2,389.5 547.6,389.1 547.9,389.2 548.3,389.2 548.7,389.5 549.0,389.2 549.4,389.6 549.8,389.3 550.2,389.9 550.5,389.6 550.9,389.2 551.3,389.5 551.6,389.3 552.0,389.7 552.4,389.0 552.7,389.2 553.1,389.4 553.5,389.3 553.9,389.3 554.2,389.1 554.6,389.3 555.0,389.7 555.3,389.4 555.7,389.1 556.1,389.2 556.4,389.5 556.8,389.2 557.2,389.3 557.6,389.2 557.9,389.7 558.3,389.6 558.7,389.2 559.0,389.4 559.4,389.3 559.8,388.9 560.2,389.4 560.5,389.3 560.9,389.5 561.3,389.5 561.6,389.4 562.0,389.7 562.4,389.8 562.7,389.1 563.1,389.4 563.5,389.1 563.9,389.3 564.2,389.3 564.6,389.2 565.0,389.2 565.3,391.0 565.7,389.1 566.1,389.6 566.4,389.3 566.8,388.8 567.2,389.3 567.6,389.0 567.9,389.4 568.3,389.2 568.7,389.3 569.0,389.3 569.4,389.5 569.8,389.6 570.1,389.3 570.5,389.7 570.9,389.5 571.3,389.2 571.6,389.5 572.0,389.5 572.4,389.6 572.7,389.3 573.1,389.4 573.5,389.3 573.8,389.4 574.2,388.9 574.6,389.4 575.0,389.8 575.3,389.3 575.7,389.3 576.1,389.3 576.4,389.7 576.8,389.1 577.2,389.3 577.6,389.3 577.9,389.7 578.3,389.2 578.7,389.3 579.0,389.0 579.4,389.4 579.8,389.6 580.1,389.3 580.5,389.5 580.9,389.2 581.3,389.5 581.6,389.3 582.0,389.3 582.4,389.3 582.7,389.4 583.1,389.4 583.5,389.2 583.8,389.3 584.2,389.2 584.6,389.2 585.0,389.6 585.3,389.1 585.7,388.8 586.1,389.0 586.4,388.9 586.8,388.8 587.2,389.0 587.5,389.1 587.9,388.6 588.3,388.4 588.7,388.5 589.0,388.4 589.4,388.3 589.8,388.3 590.1,388.2 590.5,388.1 590.9,387.9 591.2,388.1 591.6,388.0 592.0,387.6 592.4,387.8 592.7,388.1 593.1,387.6 593.5,388.0 593.8,387.1 594.2,387.4 594.6,387.4 594.9,387.8 595.3,387.9 595.7,387.8 596.1,387.8 596.4,388.1 596.8,388.0 597.2,388.0 597.5,388.1 597.9,388.5 598.3,388.8 598.7,388.5 599.0,388.7 599.4,388.5 599.8,388.4 600.1,388.4 600.5,388.8 600.9,388.7 601.2,388.4 601.6,389.0 602.0,389.0 602.4,388.9 602.7,389.1 603.1,389.2 603.5,389.3 603.8,389.2 604.2,389.3 604.6,389.0 604.9,389.3 605.3,388.9 605.7,389.0 606.1,389.5 606.4,389.0 606.8,389.3 607.2,388.9 607.5,389.1 607.9,389.2 608.3,389.1 608.6,389.3 609.0,389.1 609.4,389.1 609.8,389.2 610.1,389.1 610.5,389.4 610.9,389.1 611.2,388.4 611.6,389.1 612.0,389.1 612.3,389.0 612.7,389.3 613.1,388.6 613.5,389.2 613.8,389.1 614.2,389.3 614.6,390.2 614.9,389.3 615.3,388.9 615.7,389.3 616.1,389.1 616.4,389.2 616.8,388.9 617.2,389.2 617.5,389.3 617.9,389.0 618.3,389.3 618.6,389.3 619.0,388.9 619.4,389.5 619.8,388.9 620.1,389.1 620.5,389.2 620.9,389.0 621.2,388.9 621.6,389.1 622.0,389.0 622.3,388.8 622.7,388.8 623.1,388.9 623.5,389.1 623.8,389.1 624.2,389.0 624.6,388.7 624.9,388.7 625.3,388.7 625.7,388.4 626.0,388.7 626.4,388.7 626.8,388.7 627.2,388.1 627.5,388.9 627.9,388.4 628.3,388.3 628.6,388.3 629.0,387.7 629.4,387.8 629.7,389.5 630.1,388.0 630.5,387.6 630.9,387.6 631.2,387.3 631.6,387.0 632.0,386.9 632.3,386.2 632.7,385.5 633.1,385.0 633.5,384.4 633.8,383.8 634.2,381.8 634.6,380.2 634.9,378.5 635.3,376.4 635.7,374.0 636.0,372.5 636.4,371.0 636.8,371.2 637.2,371.6 637.5,372.2 637.9,373.2 638.3,373.4 638.6,373.8 639.0,374.7 639.4,375.0 639.7,376.0 640.1,376.3 640.5,376.5 640.9,376.2 641.2,375.3 641.6,374.2 642.0,372.3 642.3,370.7 642.7,369.0 643.1,368.8 643.4,369.9 643.8,370.5 644.2,371.8 644.6,373.0 644.9,373.7 645.3,374.7 645.7,376.2 646.0,377.7 646.4,379.2 646.8,381.0 647.1,382.1 647.5,383.3 647.9,384.3 648.3,385.1 648.6,386.4 649.0,385.7 649.4,386.1 649.7,386.6 650.1,386.5 650.5,386.7 650.8,386.6 651.2,386.0 651.6,386.9 652.0,386.6 652.3,386.6 652.7,386.3 653.1,385.3 653.4,385.0 653.8,384.9 654.2,383.5 654.6,382.6 654.9,380.9 655.3,379.7 655.7,378.4 656.0,377.5 656.4,377.1 656.8,377.4 657.1,378.1 657.5,378.7 657.9,379.2 658.3,380.1 658.6,380.5 659.0,381.2 659.4,382.2 659.7,383.0 660.1,384.4 660.5,385.1 660.8,385.9 661.2,386.2 661.6,386.9 662.0,387.2 662.3,387.4 662.7,388.1 663.1,387.9 663.4,388.3 663.8,388.3 664.2,388.4 664.5,388.3 664.9,388.4 665.3,388.2 665.7,388.6 666.0,388.8 666.4,388.8 666.8,388.6 667.1,388.5 667.5,388.8 667.9,389.0 668.2,388.8 668.6,388.9 669.0,388.5 669.4,389.1 669.7,389.5 670.1,389.1 670.5,388.8 670.8,389.0 671.2,389.5 671.6,389.1 672.0,389.5 672.3,388.7 672.7,389.1 673.1,389.4 673.4,389.0 673.8,389.3 674.2,389.0 674.5,389.1 674.9,389.4 675.3,389.0 675.7,389.4 676.0,388.9 676.4,389.2 676.8,389.4 677.1,389.6 677.5,388.9 677.9,388.9 678.2,389.5 678.6,388.9 679.0,389.2 679.4,389.3 679.7,389.2 680.1,389.3 680.5,388.9 680.8,389.2 681.2,389.6 681.6,388.8 681.9,389.1 682.3,389.5 682.7,389.3 683.1,389.4 683.4,389.3 683.8,389.2 684.2,389.2 684.5,389.4 684.9,389.4 685.3,389.1 685.6,389.3 686.0,388.8 686.4,389.4 686.8,389.1 687.1,389.3 687.5,389.4 687.9,389.0 688.2,389.3 688.6,389.5 689.0,389.4 689.4,389.1 689.7,389.5 690.1,389.0 690.5,389.2 690.8,389.4 691.2,389.0 691.6,388.9 691.9,389.2 692.3,389.3 692.7,388.9 693.1,389.0 693.4,389.5 693.8,389.4 694.2,389.4 694.5,389.4 694.9,389.6 695.3,389.1 695.6,389.3 696.0,389.3 696.4,389.0 696.8,389.4 697.1,389.3 697.5,389.3 697.9,389.4 698.2,389.3 698.6,389.2 699.0,389.3 699.3,389.1 699.7,389.5 700.1,389.3 700.5,389.6 700.8,389.4 701.2,389.5 701.6,389.0 701.9,389.2 702.3,389.2 702.7,388.9 703.0,389.0 703.4,389.2 703.8,389.5 704.2,389.6 704.5,389.3 704.9,389.4 705.3,389.5 705.6,389.4 706.0,389.7 706.4,389.0 706.7,389.6 707.1,389.5 707.5,389.2 707.9,389.7 708.2,389.1 708.6,389.1 709.0,389.4 709.3,389.6 709.7,389.4 710.1,389.7 710.5,389.0 710.8,389.3 711.2,389.5 711.6,389.5 711.9,389.2 712.3,389.0 712.7,389.6 713.0,389.5 713.4,389.7 713.8,389.2 714.2,389.3 714.5,388.9 714.9,389.4 715.3,389.4 715.6,389.5 716.0,389.2 716.4,389.7 716.7,389.2 717.1,389.3 717.5,389.4 717.9,389.5 718.2,389.1 718.6,388.9 719.0,389.4 719.3,389.2 719.7,389.0 720.1,389.4 720.4,389.4 720.8,389.6 721.2,389.3 721.6,389.3 721.9,389.4 722.3,389.4 722.7,389.6 723.0,389.5 723.4,389.4 723.8,389.1 724.1,389.3 724.5,389.4 724.9,389.0 725.3,389.0 725.6,389.2 726.0,389.2 726.4,388.8 726.7,388.8 727.1,389.0 727.5,388.7 727.9,388.7 728.2,388.4 728.6,388.8 729.0,388.3 729.3,388.4 729.7,388.6 730.1,388.2 730.4,388.2 730.8,388.6 731.2,387.9 731.6,388.6 731.9,388.6 732.3,388.5 732.7,388.4 733.0,388.5 733.4,388.7 733.8,388.4 734.1,388.7 734.5,388.5 734.9,388.3 735.3,388.9 735.6,389.6 736.0,389.2 736.4,389.3 736.7,389.1 737.1,389.1 737.5,389.4 737.8,389.5 738.2,389.3 738.6,389.3 739.0,389.8 739.3,389.1 739.7,389.3 740.1,389.3 740.4,389.2 740.8,389.5 741.2,389.3 741.5,389.1 741.9,389.1 742.3,389.2 742.7,389.3 743.0,389.5 743.4,389.0 743.8,389.2 744.1,389.4 744.5,389.7 744.9,389.5 745.3,389.7 745.6,389.0 746.0,389.2 746.4,389.4 746.7,389.3 747.1,388.7 747.5,389.0 747.8,389.6 748.2,389.3 748.6,389.5 749.0,389.6 749.3,389.2 749.7,388.7 750.1,388.9 750.4,389.0 750.8,389.3 751.2,389.2 751.5,389.0 751.9,389.5 752.3,389.6 752.7,388.8 753.0,389.1 753.4,388.8 753.8,389.1 754.1,388.8 754.5,389.3 754.9,389.0 755.2,388.8 755.6,388.9 756.0,389.2 756.4,388.9 756.7,389.2 757.1,389.3 757.5,388.9 757.8,388.7 758.2,388.8 758.6,389.2 758.9,388.7 759.3,388.7 759.7,388.9 760.1,389.3 760.4,388.4 760.8,388.4 761.2,388.4 761.5,388.7 761.9,388.5 762.3,387.8 762.7,387.6 763.0,387.4 763.4,387.2 763.8,386.7 764.1,386.3 764.5,385.7 764.9,385.1 765.2,384.1 765.6,383.4 766.0,382.3 766.4,381.7 766.7,381.7 767.1,381.0 767.5,381.9 767.8,381.9 768.2,382.1 768.6,382.4 768.9,383.5 769.3,383.1 769.7,383.5 770.1,383.9 770.4,385.3 770.8,385.5 771.2,385.9 771.5,386.5 771.9,386.6 772.3,387.4 772.6,387.3 773.0,387.7 773.4,388.4 773.8,388.5 774.1,388.5 774.5,388.5 774.9,388.4 775.2,388.1 775.6,388.6 776.0,389.2 776.3,389.5 776.7,389.0 777.1,388.8 777.5,389.1 777.8,389.2 778.2,388.9 778.6,388.6 778.9,389.1 779.3,389.3 779.7,389.3 780.0,388.7 780.4,389.2 780.8,389.0 781.2,388.9 781.5,388.9 781.9,389.4 782.3,389.0 782.6,389.0 783.0,389.1 783.4,389.0 783.8,389.4 784.1,389.3 784.5,389.4 784.9,389.1 785.2,389.4 785.6,389.2 786.0,389.5 786.3,389.3 786.7,389.4 787.1,389.3 787.5,390.2 787.8,389.3 788.2,389.3 788.6,389.8 788.9,389.1 789.3,389.4 789.7,389.4 790.0,389.5 790.4,389.1 790.8,389.5 791.2,389.2 791.5,389.1 791.9,389.0 792.3,389.1 792.6,389.2 793.0,389.6 793.4,389.0 793.7,389.1 794.1,389.1 794.5,389.2 794.9,389.3 795.2,389.5 795.6,389.1 796.0,389.1 796.3,389.6 796.7,389.1 797.1,389.3 797.4,389.1 797.8,389.3 798.2,389.1 798.6,389.1 798.9,389.2 799.3,390.2" fill="none" stroke="#1b6fea" stroke-width="3.9" stroke-linejoin="round"/>
<path d="M58.9,551.7 59.3,551.8 59.6,551.9 60.0,551.7 60.4,551.8 60.8,551.7 61.1,551.5 61.5,551.9 61.9,551.3 62.2,552.1 62.6,551.0 63.0,551.9 63.3,551.5 63.7,551.4 64.1,551.6 64.5,551.4 64.8,551.6 65.2,552.0 65.6,551.5 65.9,551.3 66.3,551.7 66.7,552.0 67.0,551.7 67.4,551.5 67.8,551.5 68.2,551.3 68.5,551.5 68.9,551.5 69.3,552.0 69.6,551.1 70.0,551.6 70.4,551.4 70.7,551.7 71.1,551.6 71.5,551.6 71.9,551.2 72.2,551.2 72.6,551.5 73.0,551.1 73.3,551.7 73.7,551.5 74.1,551.7 74.4,551.3 74.8,551.6 75.2,551.4 75.6,551.2 75.9,552.1 76.3,551.1 76.7,551.5 77.0,551.7 77.4,552.0 77.8,551.7 78.2,552.1 78.5,551.6 78.9,551.6 79.3,551.2 79.6,551.7 80.0,551.3 80.4,551.3 80.7,551.1 81.1,551.6 81.5,551.4 81.9,551.9 82.2,551.8 82.6,551.6 83.0,551.6 83.3,551.9 83.7,551.7 84.1,551.4 84.4,551.7 84.8,551.6 85.2,551.8 85.6,551.3 85.9,552.0 86.3,551.5 86.7,551.6 87.0,551.2 87.4,551.5 87.8,551.7 88.1,551.9 88.5,551.7 88.9,551.1 89.3,551.7 89.6,550.9 90.0,551.6 90.4,551.6 90.7,551.3 91.1,551.6 91.5,551.5 91.8,551.8 92.2,551.9 92.6,551.7 93.0,551.5 93.3,551.7 93.7,552.0 94.1,551.5 94.4,551.6 94.8,551.6 95.2,551.7 95.5,552.1 95.9,551.2 96.3,551.7 96.7,551.5 97.0,551.3 97.4,551.3 97.8,551.5 98.1,551.6 98.5,551.5 98.9,551.4 99.3,551.4 99.6,551.7 100.0,551.5 100.4,551.5 100.7,551.4 101.1,551.5 101.5,551.3 101.8,551.5 102.2,551.4 102.6,552.3 103.0,551.7 103.3,551.8 103.7,551.6 104.1,551.4 104.4,551.3 104.8,551.6 105.2,551.7 105.5,551.7 105.9,551.3 106.3,551.5 106.7,551.7 107.0,551.4 107.4,551.9 107.8,551.5 108.1,551.6 108.5,551.6 108.9,551.8 109.2,551.3 109.6,551.2 110.0,551.9 110.4,551.5 110.7,551.4 111.1,551.0 111.5,551.7 111.8,551.8 112.2,551.6 112.6,551.1 112.9,551.5 113.3,551.5 113.7,551.2 114.1,552.0 114.4,552.0 114.8,551.3 115.2,551.4 115.5,551.9 115.9,551.4 116.3,551.5 116.7,551.5 117.0,551.7 117.4,551.6 117.8,551.7 118.1,551.5 118.5,551.6 118.9,551.2 119.2,551.4 119.6,551.9 120.0,551.4 120.4,551.2 120.7,551.5 121.1,551.3 121.5,551.5 121.8,551.4 122.2,551.7 122.6,551.3 122.9,551.8 123.3,551.2 123.7,551.8 124.1,552.0 124.4,551.4 124.8,551.5 125.2,551.4 125.5,551.4 125.9,551.5 126.3,551.7 126.6,551.4 127.0,551.4 127.4,551.3 127.8,551.0 128.1,551.6 128.5,551.4 128.9,551.2 129.2,551.4 129.6,551.6 130.0,551.4 130.3,551.0 130.7,551.2 131.1,551.0 131.5,551.2 131.8,550.9 132.2,551.0 132.6,550.9 132.9,550.4 133.3,550.1 133.7,549.3 134.1,549.4 134.4,548.2 134.8,547.0 135.2,546.3 135.5,546.1 135.9,546.1 136.3,546.3 136.6,546.7 137.0,547.5 137.4,548.2 137.8,548.9 138.1,549.8 138.5,550.3 138.9,550.7 139.2,550.9 139.6,550.8 140.0,550.9 140.3,550.5 140.7,551.0 141.1,551.2 141.5,550.9 141.8,551.4 142.2,551.2 142.6,551.1 142.9,551.2 143.3,551.3 143.7,551.5 144.0,551.7 144.4,551.4 144.8,551.5 145.2,551.3 145.5,551.5 145.9,551.3 146.3,551.8 146.6,551.2 147.0,551.6 147.4,551.8 147.7,551.8 148.1,551.6 148.5,551.2 148.9,551.3 149.2,551.7 149.6,551.5 150.0,551.5 150.3,551.8 150.7,551.7 151.1,551.9 151.4,551.7 151.8,552.1 152.2,551.7 152.6,551.7 152.9,551.7 153.3,551.7 153.7,551.2 154.0,551.6 154.4,551.4 154.8,551.3 155.2,551.3 155.5,551.3 155.9,551.6 156.3,551.7 156.6,551.7 157.0,551.6 157.4,551.5 157.7,551.5 158.1,551.2 158.5,551.5 158.9,551.1 159.2,551.3 159.6,551.6 160.0,551.3 160.3,552.1 160.7,551.2 161.1,551.4 161.4,551.4 161.8,551.9 162.2,550.9 162.6,551.5 162.9,551.5 163.3,551.2 163.7,551.5 164.0,551.7 164.4,551.3 164.8,551.7 165.1,551.3 165.5,551.4 165.9,551.2 166.3,551.7 166.6,551.2 167.0,551.4 167.4,551.0 167.7,551.6 168.1,551.0 168.5,551.3 168.8,551.3 169.2,551.6 169.6,551.3 170.0,551.3 170.3,551.6 170.7,551.7 171.1,551.6 171.4,551.1 171.8,551.4 172.2,551.2 172.6,551.3 172.9,551.4 173.3,551.3 173.7,551.5 174.0,551.1 174.4,551.3 174.8,551.3 175.1,551.7 175.5,551.3 175.9,551.5 176.3,551.4 176.6,551.1 177.0,551.6 177.4,551.3 177.7,551.1 178.1,551.0 178.5,551.4 178.8,551.2 179.2,551.2 179.6,551.5 180.0,551.7 180.3,551.6 180.7,551.0 181.1,551.1 181.4,551.4 181.8,551.3 182.2,551.2 182.5,551.2 182.9,551.1 183.3,550.5 183.7,551.2 184.0,550.9 184.4,551.1 184.8,551.0 185.1,551.0 185.5,550.9 185.9,550.9 186.2,550.6 186.6,550.6 187.0,550.7 187.4,550.0 187.7,550.6 188.1,550.1 188.5,549.6 188.8,550.0 189.2,549.4 189.6,549.1 190.0,549.0 190.3,549.2 190.7,548.0 191.1,547.8 191.4,547.4 191.8,546.4 192.2,546.2 192.5,545.1 192.9,544.7 193.3,543.8 193.7,543.7 194.0,543.2 194.4,543.2 194.8,543.2 195.1,543.3 195.5,543.8 195.9,544.3 196.2,544.7 196.6,545.6 197.0,546.7 197.4,546.9 197.7,547.3 198.1,547.6 198.5,548.0 198.8,548.3 199.2,548.9 199.6,548.9 199.9,549.5 200.3,549.0 200.7,549.3 201.1,549.4 201.4,549.6 201.8,549.5 202.2,549.7 202.5,549.4 202.9,549.8 203.3,549.2 203.6,549.2 204.0,548.8 204.4,549.1 204.8,549.0 205.1,548.8 205.5,548.6 205.9,548.4 206.2,548.4 206.6,548.0 207.0,547.6 207.4,547.1 207.7,546.7 208.1,546.1 208.5,545.2 208.8,544.2 209.2,543.4 209.6,542.1 209.9,538.9 210.3,522.5 210.7,488.2 211.1,459.5 211.4,446.7 211.8,433.8 212.2,418.0 212.5,413.6 212.9,429.5 213.3,463.9 213.6,491.6 214.0,502.7 214.4,516.5 214.8,533.0 215.1,541.6 215.5,543.7 215.9,544.7 216.2,545.6 216.6,545.7 217.0,546.7 217.3,547.2 217.7,547.5 218.1,548.0 218.5,548.4 218.8,548.8 219.2,549.3 219.6,548.8 219.9,549.5 220.3,549.8 220.7,549.8 221.0,550.1 221.4,549.4 221.8,549.8 222.2,549.7 222.5,549.7 222.9,550.0 223.3,550.0 223.6,550.3 224.0,550.2 224.4,550.3 224.7,550.2 225.1,550.4 225.5,549.9 225.9,550.0 226.2,550.1 226.6,550.4 227.0,549.7 227.3,549.5 227.7,549.0 228.1,549.4 228.5,548.5 228.8,547.7 229.2,547.4 229.6,545.6 229.9,544.6 230.3,542.4 230.7,540.3 231.0,539.6 231.4,539.3 231.8,540.0 232.2,540.9 232.5,541.6 232.9,543.3 233.3,545.2 233.6,546.6 234.0,547.6 234.4,548.0 234.7,549.0 235.1,549.3 235.5,550.0 235.9,550.4 236.2,550.0 236.6,550.5 237.0,550.8 237.3,550.8 237.7,550.9 238.1,551.0 238.4,551.2 238.8,550.7 239.2,550.9 239.6,550.8 239.9,551.1 240.3,551.0 240.7,551.1 241.0,550.9 241.4,551.0 241.8,551.1 242.1,551.4 242.5,551.5 242.9,551.4 243.3,551.4 243.6,551.4 244.0,551.6 244.4,550.9 244.7,551.3 245.1,551.8 245.5,551.6 245.9,551.6 246.2,551.3 246.6,551.1 247.0,551.6 247.3,551.2 247.7,551.4 248.1,551.1 248.4,551.1 248.8,551.3 249.2,551.2 249.6,551.4 249.9,551.5 250.3,551.7 250.7,551.3 251.0,551.4 251.4,551.5 251.8,551.4 252.1,551.5 252.5,551.7 252.9,551.6 253.3,551.2 253.6,551.5 254.0,551.2 254.4,551.7 254.7,551.8 255.1,551.4 255.5,551.3 255.8,551.6 256.2,551.3 256.6,551.3 257.0,551.2 257.3,551.5 257.7,551.5 258.1,551.8 258.4,551.5 258.8,551.4 259.2,551.2 259.5,551.8 259.9,551.7 260.3,551.7 260.7,551.3 261.0,552.1 261.4,551.7 261.8,551.0 262.1,551.4 262.5,551.8 262.9,551.5 263.3,551.3 263.6,551.4 264.0,551.6 264.4,551.7 264.7,551.3 265.1,551.5 265.5,551.3 265.8,551.4 266.2,551.6 266.6,551.2 267.0,551.6 267.3,551.4 267.7,551.7 268.1,551.6 268.4,551.6 268.8,551.7 269.2,551.5 269.5,551.2 269.9,551.1 270.3,551.2 270.7,551.6 271.0,551.2 271.4,551.4 271.8,551.1 272.1,551.8 272.5,551.2 272.9,551.7 273.2,551.3 273.6,551.6 274.0,551.3 274.4,551.6 274.7,552.0 275.1,551.7 275.5,551.6 275.8,551.5 276.2,552.0 276.6,551.8 276.9,551.7 277.3,551.6 277.7,551.5 278.1,551.7 278.4,551.9 278.8,551.5 279.2,551.6 279.5,551.3 279.9,551.7 280.3,551.4 280.6,551.7 281.0,551.5 281.4,551.5 281.8,551.4 282.1,551.8 282.5,551.6 282.9,551.7 283.2,551.6 283.6,551.4 284.0,550.9 284.4,551.5 284.7,551.4 285.1,551.5 285.5,551.3 285.8,551.4 286.2,551.3 286.6,551.5 286.9,551.5 287.3,551.2 287.7,551.9 288.1,551.5 288.4,551.5 288.8,552.0 289.2,551.7 289.5,551.7 289.9,551.7 290.3,551.5 290.6,551.9 291.0,551.4 291.4,551.4 291.8,551.5 292.1,551.6 292.5,551.6 292.9,551.7 293.2,551.3 293.6,551.4 294.0,551.1 294.3,551.6 294.7,551.2 295.1,551.7 295.5,551.6 295.8,551.8 296.2,551.4 296.6,551.6 296.9,551.4 297.3,551.2 297.7,551.6 298.0,551.5 298.4,551.4 298.8,551.6 299.2,551.7 299.5,551.5 299.9,551.4 300.3,551.4 300.6,551.4 301.0,551.7 301.4,551.5 301.8,551.3 302.1,551.7 302.5,551.5 302.9,551.7 303.2,551.5 303.6,551.2 304.0,551.5 304.3,551.8 304.7,551.5 305.1,552.4 305.5,551.3 305.8,551.9 306.2,551.8 306.6,551.6 306.9,551.9 307.3,551.3 307.7,552.0 308.0,551.7 308.4,551.9 308.8,551.7 309.2,551.4 309.5,551.4 309.9,551.4 310.3,551.4 310.6,552.0 311.0,551.5 311.4,552.0 311.7,551.7 312.1,551.6 312.5,551.7 312.9,551.4 313.2,551.7 313.6,551.2 314.0,551.4 314.3,551.3 314.7,551.4 315.1,551.4 315.4,551.6 315.8,551.1 316.2,551.8 316.6,551.5 316.9,551.6 317.3,551.6 317.7,551.5 318.0,551.7 318.4,551.4 318.8,551.4 319.2,551.5 319.5,551.4 319.9,551.8 320.3,552.0 320.6,551.7 321.0,551.6 321.4,551.0 321.7,551.6 322.1,551.3 322.5,551.4 322.9,551.1 323.2,551.5 323.6,551.4 324.0,551.6 324.3,551.7 324.7,551.8 325.1,551.7 325.4,551.2 325.8,551.5 326.2,551.6 326.6,551.6 326.9,551.7 327.3,551.6 327.7,551.6 328.0,551.4 328.4,551.4 328.8,551.9 329.1,551.5 329.5,551.3 329.9,551.8 330.3,551.6 330.6,551.5 331.0,551.3 331.4,551.4 331.7,551.6 332.1,551.4 332.5,551.3 332.8,551.5 333.2,551.1 333.6,551.5 334.0,551.8 334.3,551.7 334.7,550.5 335.1,551.6 335.4,551.4 335.8,551.5 336.2,551.2 336.5,551.4 336.9,551.2 337.3,551.7 337.7,551.6 338.0,551.4 338.4,551.5 338.8,551.4 339.1,551.5 339.5,551.7 339.9,551.2 340.3,551.3 340.6,551.3 341.0,551.7 341.4,551.5 341.7,551.4 342.1,551.6 342.5,551.8 342.8,551.4 343.2,551.6 343.6,551.3 344.0,551.5 344.3,551.3 344.7,551.4 345.1,551.3 345.4,551.7 345.8,551.3 346.2,551.5 346.5,551.8 346.9,551.6 347.3,551.6 347.7,551.4 348.0,551.4 348.4,551.8 348.8,551.5 349.1,551.5 349.5,551.8 349.9,551.4 350.2,551.7 350.6,551.8 351.0,551.4 351.4,551.3 351.7,551.7 352.1,551.3 352.5,551.3 352.8,551.6 353.2,551.1 353.6,551.5 353.9,551.5 354.3,552.0 354.7,551.4 355.1,551.7 355.4,551.4 355.8,551.9 356.2,551.3 356.5,551.2 356.9,551.1 357.3,552.2 357.7,551.4 358.0,551.4 358.4,552.2 358.8,551.7 359.1,551.5 359.5,551.2 359.9,551.7 360.2,551.5 360.6,551.5 361.0,551.4 361.4,551.6 361.7,551.3 362.1,551.3 362.5,551.8 362.8,551.2 363.2,551.7 363.6,551.6 363.9,551.2 364.3,551.5 364.7,551.4 365.1,551.3 365.4,551.4 365.8,551.6 366.2,551.7 366.5,551.3 366.9,551.3 367.3,551.4 367.6,551.5 368.0,551.3 368.4,551.5 368.8,551.8 369.1,551.4 369.5,551.3 369.9,551.3 370.2,551.6 370.6,551.6 371.0,551.4 371.3,551.5 371.7,551.4 372.1,551.2 372.5,551.3 372.8,551.0 373.2,551.4 373.6,551.0 373.9,551.2 374.3,550.8 374.7,551.4 375.1,551.4 375.4,551.1 375.8,551.5 376.2,551.5 376.5,551.3 376.9,551.3 377.3,551.7 377.6,551.3 378.0,551.4 378.4,551.3 378.8,551.3 379.1,551.3 379.5,551.1 379.9,551.2 380.2,551.3 380.6,551.2 381.0,551.0 381.3,551.1 381.7,550.9 382.1,551.2 382.5,551.2 382.8,550.7 383.2,551.2 383.6,550.8 383.9,550.9 384.3,551.2 384.7,551.4 385.0,550.9 385.4,551.1 385.8,551.1 386.2,551.3 386.5,550.6 386.9,550.8 387.3,550.8 387.6,550.6 388.0,550.6 388.4,550.6 388.7,550.4 389.1,550.5 389.5,550.9 389.9,550.1 390.2,550.0 390.6,549.9 391.0,549.4 391.3,549.9 391.7,550.0 392.1,548.7 392.5,548.6 392.8,548.7 393.2,547.9 393.6,547.0 393.9,546.6 394.3,545.0 394.7,543.1 395.0,540.9 395.4,538.0 395.8,533.4 396.2,527.8 396.5,520.3 396.9,512.7 397.3,506.8 397.6,504.8 398.0,505.9 398.4,509.7 398.7,513.1 399.1,516.2 399.5,520.0 399.9,525.3 400.2,531.2 400.6,535.7 401.0,539.3 401.3,542.3 401.7,544.5 402.1,545.9 402.4,546.7 402.8,547.6 403.2,548.3 403.6,548.6 403.9,548.7 404.3,549.0 404.7,549.5 405.0,549.2 405.4,550.0 405.8,550.0 406.1,550.4 406.5,550.1 406.9,550.4 407.3,550.8 407.6,549.4 408.0,550.2 408.4,550.5 408.7,550.7 409.1,550.6 409.5,551.1 409.8,551.0 410.2,551.2 410.6,551.1 411.0,551.0 411.3,550.8 411.7,550.8 412.1,550.8 412.4,550.4 412.8,551.1 413.2,551.1 413.6,551.0 413.9,551.3 414.3,551.1 414.7,551.0 415.0,551.3 415.4,551.0 415.8,550.8 416.1,551.3 416.5,551.6 416.9,551.1 417.3,551.3 417.6,551.0 418.0,551.2 418.4,551.0 418.7,550.8 419.1,550.8 419.5,551.1 419.8,550.3 420.2,551.4 420.6,551.3 421.0,550.9 421.3,550.7 421.7,550.7 422.1,550.6 422.4,550.7 422.8,550.5 423.2,550.3 423.5,549.6 423.9,550.0 424.3,549.2 424.7,549.3 425.0,548.9 425.4,548.8 425.8,548.7 426.1,548.6 426.5,549.1 426.9,549.2 427.2,547.9 427.6,549.5 428.0,549.4 428.4,549.8 428.7,549.9 429.1,550.0 429.5,550.4 429.8,550.2 430.2,551.0 430.6,550.6 431.0,550.7 431.3,551.1 431.7,551.1 432.1,550.8 432.4,551.1 432.8,551.5 433.2,551.4 433.5,551.0 433.9,551.4 434.3,550.9 434.7,550.9 435.0,551.3 435.4,551.2 435.8,551.5 436.1,551.4 436.5,551.5 436.9,551.2 437.2,551.6 437.6,551.4 438.0,551.3 438.4,551.2 438.7,551.8 439.1,551.8 439.5,551.6 439.8,551.4 440.2,551.3 440.6,551.3 440.9,550.9 441.3,551.2 441.7,551.3 442.1,551.5 442.4,551.2 442.8,551.2 443.2,551.2 443.5,551.4 443.9,551.3 444.3,551.1 444.6,551.6 445.0,551.9 445.4,551.2 445.8,551.2 446.1,551.4 446.5,551.5 446.9,550.8 447.2,551.5 447.6,551.6 448.0,551.5 448.4,551.3 448.7,551.5 449.1,551.5 449.5,551.3 449.8,551.5 450.2,551.3 450.6,551.4 450.9,551.6 451.3,551.3 451.7,551.6 452.1,551.1 452.4,551.5 452.8,551.4 453.2,551.7 453.5,551.4 453.9,551.6 454.3,551.0 454.6,551.3 455.0,551.1 455.4,551.6 455.8,551.5 456.1,551.3 456.5,551.5 456.9,550.9 457.2,551.3 457.6,551.1 458.0,551.1 458.3,551.2 458.7,550.9 459.1,551.2 459.5,551.0 459.8,550.8 460.2,550.9 460.6,550.9 460.9,551.0 461.3,550.9 461.7,550.7 462.0,550.8 462.4,551.1 462.8,550.6 463.2,550.6 463.5,550.4 463.9,550.4 464.3,550.0 464.6,550.5 465.0,550.3 465.4,549.8 465.7,550.0 466.1,549.5 466.5,549.3 466.9,549.5 467.2,548.6 467.6,548.0 468.0,547.8 468.3,547.4 468.7,546.1 469.1,545.4 469.5,544.6 469.8,541.1 470.2,538.1 470.6,533.8 470.9,527.5 471.3,520.3 471.7,512.8 472.0,506.9 472.4,504.8 472.8,507.2 473.2,511.0 473.5,514.2 473.9,516.5 474.3,519.4 474.6,523.7 475.0,529.1 475.4,533.8 475.7,537.9 476.1,541.0 476.5,543.1 476.9,544.8 477.2,546.1 477.6,547.1 478.0,547.9 478.3,548.3 478.7,548.9 479.1,549.2 479.4,549.5 479.8,549.6 480.2,549.8 480.6,549.6 480.9,550.0 481.3,550.3 481.7,550.1 482.0,550.5 482.4,550.2 482.8,550.3 483.1,549.9 483.5,550.8 483.9,550.6 484.3,550.6 484.6,550.5 485.0,550.3 485.4,550.6 485.7,550.5 486.1,550.2 486.5,550.0 486.9,550.4 487.2,550.4 487.6,549.8 488.0,549.8 488.3,549.8 488.7,550.2 489.1,550.1 489.4,550.1 489.8,550.2 490.2,550.4 490.6,550.5 490.9,550.4 491.3,550.9 491.7,551.0 492.0,551.0 492.4,551.1 492.8,551.1 493.1,551.2 493.5,551.3 493.9,550.9 494.3,551.2 494.6,551.4 495.0,551.1 495.4,551.5 495.7,551.4 496.1,551.4 496.5,551.5 496.8,551.5 497.2,551.4 497.6,551.7 498.0,551.5 498.3,551.4 498.7,551.4 499.1,551.4 499.4,550.9 499.8,551.3 500.2,551.5 500.5,551.5 500.9,551.5 501.3,551.4 501.7,551.5 502.0,551.1 502.4,551.7 502.8,551.3 503.1,551.4 503.5,551.7 503.9,551.3 504.3,551.4 504.6,551.6 505.0,551.0 505.4,551.3 505.7,551.6 506.1,551.6 506.5,551.7 506.8,551.4 507.2,551.5 507.6,551.8 508.0,551.7 508.3,551.7 508.7,551.6 509.1,551.6 509.4,551.6 509.8,551.4 510.2,551.3 510.5,551.5 510.9,552.0 511.3,551.6 511.7,551.4 512.0,551.5 512.4,551.5 512.8,551.5 513.1,551.8 513.5,552.1 513.9,551.4 514.2,551.6 514.6,551.4 515.0,551.6 515.4,551.6 515.7,551.2 516.1,551.8 516.5,551.5 516.8,551.8 517.2,551.5 517.6,551.4 517.9,551.4 518.3,551.5 518.7,551.8 519.1,551.5 519.4,551.4 519.8,551.3 520.2,551.1 520.5,551.4 520.9,551.8 521.3,551.7 521.6,551.5 522.0,551.3 522.4,551.8 522.8,551.4 523.1,551.4 523.5,551.7 523.9,551.4 524.2,551.7 524.6,551.5 525.0,551.4 525.4,551.5 525.7,551.8 526.1,551.4 526.5,552.0 526.8,551.6 527.2,551.7 527.6,551.2 527.9,551.4 528.3,551.7 528.7,551.7 529.1,551.5 529.4,551.7 529.8,551.1 530.2,552.1 530.5,551.5 530.9,552.1 531.3,551.3 531.6,551.7 532.0,551.2 532.4,551.7 532.8,551.3 533.1,551.5 533.5,551.3 533.9,551.6 534.2,552.2 534.6,551.7 535.0,551.9 535.3,551.4 535.7,551.4 536.1,551.6 536.5,551.5 536.8,551.5 537.2,551.7 537.6,551.2 537.9,551.5 538.3,551.6 538.7,551.9 539.0,551.7 539.4,551.6 539.8,551.6 540.2,551.7 540.5,551.6 540.9,551.8 541.3,551.6 541.6,551.9 542.0,551.7 542.4,551.7 542.8,551.4 543.1,551.5 543.5,551.5 543.9,551.8 544.2,551.6 544.6,551.4 545.0,551.3 545.3,551.9 545.7,551.7 546.1,551.5 546.5,551.3 546.8,551.6 547.2,551.4 547.6,551.9 547.9,551.2 548.3,551.8 548.7,551.5 549.0,551.5 549.4,551.3 549.8,551.4 550.2,551.4 550.5,551.3 550.9,551.6 551.3,551.4 551.6,551.2 552.0,551.7 552.4,551.9 552.7,551.8 553.1,551.3 553.5,551.3 553.9,551.6 554.2,551.5 554.6,551.5 555.0,551.3 555.3,552.0 555.7,551.7 556.1,551.6 556.4,551.5 556.8,551.5 557.2,551.6 557.6,551.5 557.9,552.1 558.3,550.9 558.7,551.4 559.0,551.4 559.4,551.7 559.8,551.5 560.2,551.1 560.5,551.2 560.9,551.5 561.3,551.8 561.6,551.5 562.0,551.6 562.4,551.4 562.7,551.8 563.1,551.6 563.5,551.5 563.9,551.6 564.2,551.3 564.6,551.8 565.0,551.8 565.3,551.6 565.7,551.4 566.1,551.6 566.4,551.7 566.8,551.4 567.2,551.5 567.6,551.7 567.9,551.5 568.3,551.6 568.7,551.4 569.0,551.5 569.4,551.7 569.8,551.6 570.1,551.6 570.5,551.5 570.9,551.5 571.3,551.7 571.6,551.6 572.0,551.5 572.4,551.3 572.7,551.5 573.1,551.1 573.5,551.5 573.8,551.4 574.2,551.6 574.6,551.7 575.0,551.5 575.3,551.4 575.7,551.5 576.1,551.5 576.4,551.6 576.8,552.0 577.2,551.6 577.6,551.4 577.9,551.3 578.3,552.2 578.7,551.4 579.0,551.3 579.4,550.8 579.8,551.4 580.1,551.4 580.5,551.6 580.9,551.5 581.3,551.4 581.6,551.7 582.0,551.7 582.4,551.4 582.7,551.8 583.1,551.5 583.5,551.8 583.8,551.4 584.2,551.4 584.6,551.5 585.0,551.6 585.3,551.5 585.7,551.8 586.1,551.4 586.4,551.3 586.8,551.0 587.2,551.3 587.5,551.2 587.9,550.8 588.3,550.7 588.7,551.1 589.0,550.7 589.4,550.7 589.8,550.7 590.1,551.0 590.5,550.9 590.9,550.5 591.2,550.0 591.6,550.6 592.0,550.1 592.4,550.0 592.7,550.6 593.1,550.5 593.5,550.0 593.8,550.1 594.2,550.2 594.6,550.3 594.9,550.2 595.3,550.5 595.7,549.9 596.1,550.7 596.4,550.9 596.8,550.6 597.2,550.4 597.5,550.9 597.9,550.8 598.3,551.1 598.7,550.9 599.0,551.2 599.4,551.3 599.8,551.4 600.1,551.3 600.5,550.8 600.9,551.2 601.2,551.2 601.6,550.8 602.0,551.4 602.4,551.5 602.7,551.2 603.1,551.6 603.5,551.3 603.8,551.1 604.2,551.6 604.6,551.5 604.9,551.0 605.3,551.6 605.7,551.6 606.1,551.4 606.4,551.5 606.8,551.6 607.2,551.1 607.5,551.5 607.9,551.3 608.3,551.5 608.6,551.5 609.0,551.7 609.4,551.2 609.8,551.5 610.1,551.1 610.5,551.6 610.9,551.5 611.2,551.3 611.6,551.4 612.0,551.5 612.3,551.4 612.7,551.6 613.1,551.4 613.5,551.9 613.8,551.3 614.2,551.1 614.6,551.2 614.9,551.2 615.3,551.4 615.7,551.2 616.1,551.1 616.4,551.3 616.8,551.3 617.2,552.0 617.5,551.1 617.9,551.2 618.3,551.1 618.6,551.5 619.0,551.1 619.4,551.1 619.8,551.7 620.1,551.6 620.5,551.2 620.9,551.3 621.2,551.2 621.6,551.3 622.0,550.8 622.3,551.5 622.7,551.4 623.1,551.3 623.5,551.3 623.8,551.1 624.2,551.4 624.6,551.3 624.9,550.9 625.3,550.6 625.7,550.6 626.0,550.4 626.4,550.5 626.8,550.7 627.2,550.3 627.5,550.5 627.9,550.2 628.3,550.5 628.6,550.8 629.0,550.5 629.4,550.6 629.7,550.0 630.1,550.0 630.5,550.7 630.9,549.8 631.2,549.5 631.6,548.9 632.0,548.8 632.3,548.3 632.7,547.5 633.1,546.9 633.5,546.4 633.8,545.1 634.2,544.1 634.6,542.0 634.9,539.9 635.3,538.0 635.7,535.0 636.0,533.0 636.4,532.1 636.8,531.8 637.2,532.1 637.5,533.3 637.9,533.8 638.3,534.5 638.6,535.4 639.0,535.8 639.4,536.5 639.7,536.9 640.1,537.6 640.5,537.5 640.9,537.4 641.2,536.6 641.6,534.4 642.0,532.4 642.3,531.1 642.7,529.9 643.1,529.3 643.4,530.4 643.8,531.4 644.2,532.9 644.6,533.6 644.9,534.7 645.3,537.2 645.7,537.3 646.0,539.1 646.4,540.7 646.8,541.9 647.1,543.7 647.5,544.6 647.9,546.1 648.3,546.7 648.6,547.4 649.0,547.8 649.4,548.0 649.7,548.7 650.1,548.3 650.5,548.4 650.8,548.6 651.2,548.6 651.6,548.6 652.0,548.2 652.3,548.1 652.7,547.9 653.1,547.2 653.4,546.4 653.8,545.6 654.2,544.5 654.6,543.1 654.9,541.6 655.3,539.8 655.7,538.5 656.0,537.0 656.4,536.3 656.8,537.0 657.1,537.8 657.5,538.3 657.9,539.2 658.3,539.9 658.6,540.5 659.0,541.4 659.4,542.7 659.7,544.1 660.1,544.7 660.5,546.2 660.8,547.3 661.2,547.8 661.6,548.2 662.0,549.3 662.3,549.1 662.7,549.7 663.1,549.4 663.4,549.9 663.8,550.2 664.2,550.1 664.5,550.2 664.9,550.6 665.3,550.6 665.7,550.8 666.0,550.6 666.4,551.1 666.8,550.9 667.1,551.3 667.5,550.8 667.9,551.4 668.2,551.2 668.6,551.0 669.0,551.1 669.4,551.2 669.7,551.3 670.1,551.2 670.5,551.5 670.8,551.1 671.2,551.0 671.6,551.0 672.0,551.2 672.3,551.0 672.7,551.2 673.1,551.1 673.4,551.2 673.8,551.3 674.2,551.5 674.5,551.9 674.9,551.2 675.3,551.3 675.7,550.9 676.0,551.8 676.4,551.2 676.8,551.6 677.1,551.4 677.5,551.6 677.9,551.3 678.2,551.4 678.6,551.2 679.0,551.4 679.4,551.3 679.7,551.1 680.1,551.3 680.5,551.4 680.8,551.2 681.2,551.4 681.6,551.3 681.9,551.5 682.3,551.6 682.7,552.1 683.1,551.3 683.4,551.7 683.8,551.3 684.2,551.1 684.5,551.7 684.9,551.3 685.3,551.5 685.6,551.4 686.0,551.7 686.4,551.5 686.8,551.4 687.1,551.2 687.5,551.4 687.9,551.4 688.2,551.6 688.6,551.0 689.0,551.5 689.4,551.5 689.7,551.5 690.1,551.4 690.5,551.3 690.8,551.6 691.2,551.5 691.6,551.1 691.9,551.2 692.3,551.4 692.7,551.4 693.1,551.5 693.4,549.7 693.8,551.6 694.2,551.5 694.5,551.6 694.9,551.6 695.3,551.5 695.6,551.5 696.0,551.6 696.4,551.5 696.8,551.5 697.1,551.6 697.5,551.6 697.9,551.5 698.2,551.4 698.6,551.3 699.0,551.5 699.3,553.2 699.7,551.5 700.1,551.1 700.5,551.3 700.8,551.7 701.2,551.5 701.6,551.6 701.9,551.6 702.3,551.9 702.7,551.5 703.0,551.8 703.4,551.6 703.8,551.2 704.2,551.3 704.5,551.7 704.9,551.7 705.3,551.7 705.6,551.9 706.0,551.7 706.4,551.6 706.7,551.7 707.1,551.4 707.5,551.9 707.9,551.6 708.2,551.2 708.6,551.4 709.0,551.5 709.3,551.1 709.7,551.2 710.1,551.7 710.5,551.5 710.8,551.6 711.2,551.8 711.6,551.1 711.9,551.2 712.3,551.8 712.7,551.4 713.0,551.9 713.4,551.3 713.8,551.5 714.2,551.6 714.5,551.3 714.9,551.5 715.3,551.6 715.6,551.3 716.0,551.6 716.4,551.3 716.7,551.5 717.1,551.3 717.5,551.4 717.9,551.3 718.2,551.7 718.6,551.1 719.0,551.5 719.3,551.1 719.7,551.6 720.1,551.6 720.4,551.6 720.8,551.3 721.2,551.6 721.6,551.4 721.9,551.8 722.3,551.6 722.7,551.4 723.0,551.5 723.4,551.8 723.8,551.3 724.1,551.6 724.5,551.0 724.9,551.4 725.3,550.8 725.6,551.1 726.0,551.1 726.4,551.3 726.7,551.1 727.1,550.9 727.5,551.4 727.9,550.7 728.2,551.1 728.6,550.8 729.0,551.3 729.3,550.6 729.7,550.4 730.1,550.5 730.4,550.5 730.8,550.6 731.2,550.5 731.6,550.3 731.9,550.7 732.3,550.5 732.7,550.5 733.0,550.8 733.4,550.8 733.8,550.8 734.1,551.1 734.5,550.5 734.9,551.2 735.3,550.8 735.6,551.0 736.0,551.7 736.4,551.2 736.7,551.1 737.1,551.2 737.5,551.6 737.8,551.3 738.2,551.7 738.6,551.6 739.0,551.5 739.3,551.4 739.7,551.1 740.1,551.4 740.4,551.2 740.8,551.7 741.2,551.7 741.5,551.6 741.9,551.1 742.3,551.8 742.7,551.8 743.0,551.5 743.4,551.2 743.8,551.8 744.1,551.5 744.5,551.8 744.9,551.2 745.3,551.3 745.6,551.4 746.0,551.5 746.4,551.5 746.7,551.4 747.1,551.6 747.5,551.6 747.8,551.7 748.2,551.4 748.6,551.6 749.0,551.2 749.3,551.9 749.7,551.3 750.1,551.3 750.4,551.1 750.8,551.5 751.2,551.7 751.5,551.6 751.9,551.1 752.3,551.4 752.7,551.4 753.0,551.5 753.4,551.4 753.8,551.4 754.1,551.6 754.5,551.4 754.9,551.1 755.2,551.0 755.6,551.3 756.0,551.3 756.4,550.9 756.7,551.2 757.1,551.4 757.5,551.1 757.8,550.9 758.2,550.7 758.6,551.1 758.9,550.8 759.3,551.0 759.7,550.6 760.1,550.7 760.4,550.6 760.8,550.8 761.2,550.5 761.5,550.4 761.9,550.9 762.3,549.7 762.7,549.6 763.0,549.3 763.4,548.9 763.8,548.3 764.1,547.7 764.5,547.2 764.9,546.1 765.2,545.1 765.6,544.1 766.0,543.5 766.4,542.4 766.7,542.2 767.1,541.8 767.5,541.8 767.8,542.3 768.2,543.0 768.6,543.5 768.9,543.9 769.3,544.1 769.7,544.8 770.1,545.4 770.4,546.5 770.8,546.8 771.2,547.5 771.5,548.1 771.9,548.3 772.3,549.3 772.6,549.7 773.0,549.6 773.4,550.2 773.8,550.2 774.1,550.3 774.5,550.5 774.9,550.8 775.2,550.5 775.6,550.5 776.0,551.1 776.3,551.0 776.7,550.8 777.1,551.1 777.5,551.3 777.8,551.2 778.2,551.0 778.6,551.4 778.9,551.2 779.3,551.1 779.7,551.4 780.0,551.2 780.4,551.1 780.8,551.1 781.2,551.1 781.5,551.7 781.9,551.2 782.3,551.2 782.6,551.2 783.0,551.6 783.4,551.2 783.8,551.3 784.1,551.7 784.5,551.1 784.9,551.6 785.2,551.6 785.6,551.4 786.0,551.6 786.3,551.4 786.7,551.5 787.1,551.4 787.5,551.3 787.8,551.5 788.2,551.3 788.6,551.3 788.9,551.7 789.3,551.3 789.7,551.4 790.0,551.5 790.4,552.0 790.8,551.1 791.2,551.3 791.5,551.8 791.9,551.4 792.3,551.5 792.6,551.6 793.0,551.4 793.4,551.6 793.7,551.2 794.1,551.5 794.5,551.5 794.9,551.4 795.2,551.4 795.6,551.3 796.0,551.4 796.3,551.5 796.7,551.5 797.1,552.0 797.4,551.8 797.8,551.3 798.2,551.6 798.6,551.1 798.9,551.2 799.3,551.8" fill="none" stroke="#f73b3f" stroke-width="3.9" stroke-linejoin="round"/>
<path d="M58.9,721.8 59.3,722.1 59.6,721.8 60.0,722.2 60.4,722.2 60.8,722.1 61.1,722.0 61.5,722.0 61.9,722.0 62.2,721.8 62.6,722.0 63.0,721.7 63.3,722.0 63.7,721.7 64.1,721.6 64.5,721.5 64.8,722.3 65.2,721.5 65.6,722.3 65.9,721.6 66.3,721.9 66.7,721.8 67.0,722.1 67.4,721.7 67.8,721.7 68.2,722.0 68.5,722.0 68.9,721.7 69.3,721.7 69.6,721.7 70.0,722.0 70.4,721.9 70.7,721.7 71.1,721.7 71.5,721.6 71.9,721.9 72.2,722.0 72.6,721.8 73.0,721.8 73.3,722.0 73.7,721.8 74.1,722.1 74.4,721.8 74.8,722.0 75.2,721.4 75.6,721.6 75.9,721.8 76.3,722.2 76.7,722.2 77.0,721.7 77.4,721.9 77.8,721.8 78.2,722.2 78.5,722.2 78.9,721.9 79.3,721.9 79.6,722.2 80.0,722.1 80.4,721.7 80.7,722.0 81.1,721.8 81.5,721.5 81.9,721.8 82.2,721.9 82.6,722.0 83.0,721.6 83.3,722.2 83.7,722.1 84.1,721.9 84.4,722.2 84.8,721.7 85.2,722.0 85.6,721.8 85.9,721.9 86.3,721.9 86.7,721.9 87.0,722.3 87.4,722.1 87.8,722.0 88.1,721.4 88.5,721.7 88.9,721.7 89.3,722.1 89.6,721.7 90.0,721.6 90.4,721.7 90.7,721.3 91.1,722.2 91.5,722.1 91.8,721.9 92.2,722.1 92.6,721.9 93.0,721.8 93.3,721.9 93.7,721.9 94.1,721.8 94.4,721.7 94.8,722.0 95.2,722.0 95.5,721.6 95.9,722.0 96.3,722.1 96.7,721.8 97.0,722.0 97.4,721.8 97.8,721.9 98.1,721.7 98.5,721.7 98.9,722.1 99.3,722.1 99.6,721.5 100.0,722.0 100.4,722.2 100.7,722.3 101.1,721.9 101.5,722.0 101.8,722.3 102.2,722.1 102.6,722.1 103.0,721.7 103.3,721.8 103.7,721.9 104.1,722.2 104.4,721.9 104.8,721.7 105.2,721.8 105.5,721.6 105.9,721.9 106.3,721.7 106.7,721.8 107.0,722.0 107.4,721.6 107.8,721.8 108.1,721.7 108.5,722.1 108.9,722.1 109.2,721.9 109.6,722.0 110.0,721.7 110.4,721.8 110.7,721.6 111.1,721.7 111.5,722.1 111.8,721.7 112.2,722.0 112.6,722.0 112.9,721.8 113.3,721.9 113.7,721.6 114.1,721.2 114.4,721.8 114.8,721.5 115.2,721.9 115.5,721.8 115.9,722.0 116.3,721.9 116.7,721.6 117.0,721.7 117.4,721.7 117.8,722.0 118.1,721.5 118.5,721.9 118.9,722.0 119.2,721.8 119.6,721.7 120.0,721.7 120.4,721.5 120.7,722.1 121.1,721.9 121.5,721.5 121.8,721.3 122.2,721.9 122.6,721.8 122.9,722.1 123.3,722.0 123.7,722.0 124.1,721.8 124.4,722.0 124.8,721.6 125.2,721.8 125.5,721.8 125.9,721.5 126.3,721.8 126.6,722.0 127.0,721.7 127.4,721.2 127.8,721.7 128.1,721.6 128.5,721.7 128.9,721.7 129.2,721.5 129.6,722.1 130.0,721.8 130.3,721.6 130.7,721.5 131.1,721.0 131.5,720.7 131.8,721.0 132.2,720.9 132.6,720.7 132.9,720.2 133.3,720.4 133.7,719.7 134.1,718.5 134.4,718.0 134.8,717.5 135.2,716.0 135.5,715.8 135.9,715.2 136.3,715.5 136.6,716.8 137.0,717.0 137.4,718.0 137.8,719.0 138.1,719.4 138.5,719.7 138.9,720.4 139.2,721.0 139.6,721.3 140.0,721.4 140.3,721.5 140.7,721.1 141.1,721.4 141.5,721.5 141.8,721.3 142.2,721.5 142.6,721.6 142.9,721.8 143.3,721.8 143.7,721.6 144.0,721.9 144.4,721.3 144.8,721.7 145.2,721.8 145.5,721.5 145.9,722.0 146.3,721.5 146.6,721.7 147.0,721.3 147.4,721.9 147.7,721.8 148.1,722.0 148.5,722.0 148.9,721.7 149.2,722.0 149.6,721.7 150.0,721.9 150.3,721.6 150.7,722.3 151.1,721.7 151.4,721.8 151.8,720.4 152.2,721.9 152.6,721.4 152.9,721.9 153.3,721.7 153.7,721.9 154.0,721.9 154.4,721.8 154.8,721.7 155.2,722.0 155.5,721.9 155.9,722.1 156.3,721.7 156.6,722.0 157.0,722.0 157.4,721.7 157.7,721.8 158.1,721.7 158.5,721.8 158.9,721.7 159.2,721.8 159.6,722.0 160.0,721.8 160.3,721.9 160.7,721.9 161.1,721.7 161.4,721.9 161.8,722.0 162.2,721.5 162.6,721.4 162.9,721.9 163.3,721.5 163.7,721.7 164.0,721.9 164.4,722.0 164.8,721.8 165.1,721.9 165.5,721.9 165.9,721.8 166.3,722.0 166.6,721.6 167.0,722.0 167.4,722.0 167.7,721.6 168.1,721.6 168.5,721.4 168.8,721.7 169.2,721.9 169.6,721.5 170.0,721.8 170.3,721.8 170.7,723.1 171.1,721.7 171.4,722.3 171.8,721.6 172.2,722.2 172.6,721.5 172.9,722.1 173.3,721.6 173.7,721.2 174.0,721.8 174.4,722.0 174.8,721.3 175.1,721.8 175.5,721.9 175.9,721.4 176.3,722.3 176.6,722.0 177.0,722.0 177.4,721.8 177.7,722.1 178.1,721.5 178.5,721.4 178.8,721.6 179.2,721.7 179.6,722.0 180.0,721.5 180.3,721.7 180.7,721.4 181.1,721.3 181.4,721.5 181.8,722.0 182.2,721.7 182.5,721.2 182.9,721.4 183.3,721.2 183.7,721.9 184.0,721.4 184.4,721.4 184.8,721.7 185.1,721.5 185.5,721.1 185.9,721.1 186.2,721.3 186.6,721.1 187.0,720.9 187.4,721.3 187.7,720.9 188.1,720.7 188.5,721.0 188.8,720.4 189.2,720.6 189.6,720.3 190.0,720.2 190.3,720.2 190.7,720.2 191.1,720.1 191.4,719.8 191.8,719.6 192.2,719.2 192.5,719.3 192.9,719.1 193.3,718.7 193.7,718.9 194.0,718.8 194.4,718.5 194.8,718.8 195.1,718.8 195.5,718.8 195.9,719.0 196.2,719.4 196.6,719.6 197.0,719.4 197.4,719.2 197.7,719.4 198.1,719.3 198.5,720.2 198.8,720.0 199.2,720.3 199.6,720.2 199.9,720.1 200.3,720.3 200.7,720.0 201.1,720.3 201.4,720.0 201.8,720.0 202.2,720.5 202.5,720.2 202.9,719.7 203.3,719.8 203.6,719.8 204.0,720.0 204.4,719.8 204.8,719.4 205.1,719.0 205.5,719.0 205.9,718.9 206.2,718.5 206.6,718.1 207.0,718.2 207.4,717.6 207.7,716.9 208.1,716.0 208.5,715.3 208.8,714.9 209.2,713.8 209.6,712.8 209.9,709.6 210.3,693.2 210.7,658.9 211.1,630.3 211.4,617.4 211.8,604.9 212.2,589.2 212.5,584.3 212.9,600.6 213.3,635.2 213.6,662.3 214.0,673.3 214.4,686.7 214.8,703.0 215.1,712.1 215.5,714.2 215.9,715.3 216.2,715.6 216.6,716.8 217.0,717.5 217.3,717.8 217.7,717.8 218.1,718.4 218.5,718.7 218.8,719.0 219.2,719.3 219.6,719.5 219.9,720.0 220.3,719.4 220.7,720.0 221.0,719.8 221.4,720.5 221.8,720.2 222.2,720.6 222.5,720.7 222.9,720.4 223.3,720.3 223.6,720.3 224.0,720.3 224.4,720.7 224.7,720.5 225.1,720.8 225.5,720.7 225.9,720.5 226.2,720.6 226.6,720.3 227.0,720.8 227.3,720.0 227.7,720.2 228.1,719.5 228.5,719.2 228.8,719.2 229.2,718.2 229.6,717.0 229.9,716.1 230.3,714.7 230.7,713.3 231.0,712.2 231.4,712.1 231.8,712.8 232.2,713.2 232.5,715.2 232.9,715.4 233.3,716.9 233.6,718.0 234.0,718.7 234.4,719.2 234.7,719.8 235.1,720.3 235.5,720.7 235.9,720.4 236.2,720.9 236.6,720.6 237.0,721.3 237.3,721.2 237.7,721.3 238.1,720.9 238.4,721.0 238.8,721.5 239.2,721.8 239.6,721.2 239.9,721.4 240.3,721.7 240.7,721.8 241.0,721.4 241.4,721.6 241.8,721.5 242.1,721.5 242.5,721.7 242.9,721.7 243.3,721.5 243.6,721.6 244.0,721.7 244.4,721.5 244.7,723.3 245.1,721.4 245.5,721.6 245.9,721.8 246.2,721.7 246.6,721.4 247.0,721.6 247.3,722.1 247.7,721.9 248.1,721.7 248.4,721.3 248.8,721.6 249.2,721.8 249.6,721.6 249.9,721.7 250.3,721.8 250.7,721.7 251.0,722.2 251.4,721.5 251.8,721.6 252.1,721.8 252.5,721.9 252.9,722.0 253.3,721.7 253.6,721.7 254.0,721.7 254.4,721.4 254.7,722.3 255.1,721.9 255.5,721.9 255.8,721.6 256.2,721.8 256.6,722.0 257.0,721.7 257.3,721.7 257.7,721.4 258.1,721.7 258.4,721.9 258.8,721.9 259.2,722.0 259.5,721.7 259.9,721.6 260.3,721.9 260.7,721.8 261.0,721.5 261.4,721.8 261.8,721.7 262.1,722.0 262.5,721.9 262.9,722.3 263.3,722.1 263.6,721.7 264.0,721.5 264.4,721.9 264.7,722.1 265.1,721.8 265.5,721.6 265.8,721.9 266.2,721.6 266.6,721.8 267.0,722.1 267.3,722.0 267.7,721.9 268.1,721.3 268.4,721.7 268.8,721.9 269.2,721.8 269.5,721.8 269.9,721.9 270.3,721.9 270.7,721.9 271.0,721.7 271.4,721.5 271.8,721.5 272.1,721.9 272.5,721.7 272.9,722.0 273.2,722.1 273.6,721.8 274.0,721.7 274.4,721.5 274.7,721.7 275.1,721.7 275.5,721.7 275.8,721.9 276.2,722.1 276.6,721.4 276.9,721.9 277.3,721.7 277.7,721.7 278.1,721.9 278.4,721.4 278.8,721.7 279.2,721.8 279.5,721.9 279.9,722.1 280.3,722.1 280.6,721.7 281.0,721.9 281.4,721.9 281.8,721.7 282.1,721.9 282.5,721.7 282.9,722.0 283.2,722.0 283.6,721.6 284.0,722.0 284.4,721.7 284.7,721.7 285.1,721.8 285.5,722.2 285.8,722.1 286.2,722.1 286.6,722.1 286.9,721.7 287.3,722.0 287.7,722.1 288.1,722.0 288.4,721.9 288.8,722.2 289.2,721.7 289.5,721.7 289.9,722.0 290.3,721.7 290.6,722.2 291.0,722.0 291.4,721.9 291.8,721.8 292.1,721.6 292.5,721.9 292.9,722.1 293.2,721.8 293.6,721.8 294.0,721.8 294.3,721.9 294.7,721.8 295.1,722.0 295.5,721.7 295.8,722.0 296.2,722.0 296.6,721.6 296.9,722.0 297.3,721.9 297.7,721.7 298.0,721.9 298.4,721.7 298.8,722.0 299.2,721.6 299.5,722.2 299.9,722.2 300.3,721.8 300.6,721.6 301.0,721.5 301.4,722.0 301.8,721.9 302.1,722.0 302.5,722.3 302.9,721.7 303.2,721.9 303.6,721.6 304.0,721.8 304.3,722.0 304.7,722.0 305.1,721.9 305.5,721.8 305.8,722.0 306.2,721.3 306.6,721.8 306.9,722.1 307.3,721.8 307.7,721.6 308.0,721.8 308.4,721.9 308.8,722.0 309.2,722.0 309.5,722.1 309.9,722.0 310.3,721.8 310.6,722.0 311.0,721.5 311.4,721.8 311.7,722.0 312.1,721.9 312.5,721.5 312.9,722.2 313.2,721.8 313.6,721.3 314.0,721.6 314.3,722.1 314.7,721.8 315.1,721.9 315.4,721.3 315.8,722.0 316.2,721.9 316.6,721.9 316.9,722.2 317.3,722.6 317.7,721.9 318.0,721.8 318.4,722.0 318.8,721.8 319.2,721.7 319.5,721.7 319.9,722.2 320.3,721.5 320.6,721.7 321.0,721.7 321.4,721.9 321.7,721.9 322.1,722.0 322.5,721.8 322.9,721.7 323.2,722.0 323.6,721.7 324.0,722.0 324.3,721.7 324.7,721.9 325.1,721.7 325.4,721.4 325.8,721.8 326.2,722.0 326.6,722.0 326.9,721.7 327.3,722.0 327.7,721.6 328.0,721.8 328.4,721.7 328.8,721.7 329.1,722.1 329.5,722.0 329.9,721.8 330.3,722.0 330.6,721.7 331.0,722.3 331.4,722.0 331.7,721.9 332.1,722.3 332.5,722.0 332.8,722.2 333.2,721.9 333.6,721.9 334.0,721.7 334.3,722.5 334.7,722.2 335.1,722.0 335.4,721.8 335.8,721.8 336.2,721.8 336.5,721.6 336.9,721.9 337.3,721.9 337.7,722.0 338.0,722.0 338.4,721.6 338.8,721.8 339.1,722.4 339.5,721.6 339.9,722.3 340.3,721.9 340.6,721.6 341.0,721.8 341.4,721.7 341.7,721.7 342.1,721.8 342.5,722.1 342.8,721.8 343.2,722.0 343.6,722.4 344.0,721.9 344.3,721.7 344.7,721.8 345.1,721.8 345.4,721.5 345.8,721.8 346.2,721.6 346.5,723.4 346.9,721.5 347.3,721.9 347.7,721.6 348.0,721.4 348.4,721.9 348.8,721.6 349.1,722.1 349.5,721.8 349.9,721.7 350.2,722.0 350.6,722.2 351.0,721.8 351.4,721.9 351.7,721.8 352.1,721.8 352.5,721.7 352.8,721.5 353.2,721.7 353.6,722.2 353.9,721.7 354.3,721.7 354.7,721.8 355.1,721.5 355.4,721.8 355.8,721.9 356.2,721.7 356.5,722.2 356.9,721.6 357.3,721.8 357.7,721.5 358.0,721.7 358.4,721.7 358.8,721.8 359.1,722.1 359.5,721.8 359.9,721.7 360.2,721.6 360.6,721.7 361.0,721.7 361.4,721.7 361.7,721.9 362.1,721.7 362.5,721.8 362.8,722.1 363.2,722.1 363.6,721.6 363.9,721.5 364.3,721.5 364.7,722.0 365.1,721.5 365.4,721.4 365.8,721.9 366.2,721.7 366.5,721.4 366.9,721.8 367.3,721.5 367.6,721.9 368.0,721.8 368.4,721.6 368.8,721.8 369.1,721.7 369.5,721.7 369.9,722.0 370.2,721.4 370.6,721.8 371.0,721.8 371.3,721.8 371.7,721.7 372.1,721.9 372.5,721.5 372.8,721.8 373.2,721.5 373.6,721.9 373.9,721.9 374.3,721.9 374.7,721.7 375.1,722.0 375.4,721.5 375.8,721.8 376.2,721.5 376.5,721.8 376.9,721.5 377.3,721.9 377.6,721.9 378.0,721.5 378.4,721.7 378.8,721.4 379.1,721.8 379.5,721.5 379.9,721.8 380.2,722.0 380.6,721.3 381.0,721.6 381.3,722.1 381.7,721.5 382.1,721.9 382.5,721.4 382.8,721.2 383.2,721.2 383.6,721.1 383.9,721.3 384.3,721.4 384.7,721.3 385.0,721.6 385.4,721.1 385.8,721.1 386.2,721.1 386.5,721.3 386.9,721.0 387.3,721.2 387.6,720.7 388.0,721.1 388.4,721.0 388.7,720.9 389.1,720.9 389.5,720.8 389.9,720.5 390.2,720.9 390.6,719.8 391.0,719.9 391.3,719.7 391.7,719.7 392.1,719.2 392.5,718.9 392.8,718.5 393.2,718.3 393.6,717.3 393.9,716.8 394.3,715.2 394.7,713.7 395.0,711.2 395.4,707.8 395.8,702.8 396.2,696.5 396.5,689.2 396.9,681.4 397.3,674.5 397.6,673.0 398.0,674.6 398.4,678.1 398.7,681.6 399.1,684.5 399.5,689.1 399.9,694.6 400.2,700.5 400.6,705.2 401.0,709.3 401.3,712.1 401.7,714.1 402.1,715.6 402.4,716.7 402.8,717.7 403.2,718.6 403.6,718.8 403.9,719.7 404.3,719.5 404.7,719.9 405.0,719.8 405.4,720.7 405.8,719.9 406.1,720.5 406.5,720.9 406.9,720.6 407.3,720.7 407.6,720.7 408.0,720.4 408.4,721.2 408.7,721.0 409.1,721.1 409.5,721.3 409.8,721.1 410.2,721.0 410.6,721.5 411.0,721.2 411.3,721.1 411.7,721.2 412.1,721.7 412.4,721.3 412.8,721.5 413.2,721.2 413.6,721.5 413.9,721.1 414.3,721.8 414.7,721.4 415.0,721.7 415.4,721.2 415.8,721.2 416.1,721.8 416.5,721.4 416.9,721.6 417.3,722.0 417.6,721.5 418.0,721.6 418.4,721.5 418.7,721.7 419.1,721.6 419.5,721.6 419.8,721.6 420.2,721.9 420.6,721.6 421.0,721.6 421.3,722.0 421.7,721.3 422.1,721.4 422.4,721.7 422.8,721.2 423.2,721.9 423.5,721.9 423.9,721.8 424.3,721.9 424.7,721.3 425.0,721.7 425.4,721.7 425.8,721.6 426.1,721.4 426.5,721.7 426.9,721.8 427.2,721.7 427.6,721.5 428.0,721.8 428.4,721.4 428.7,721.7 429.1,721.8 429.5,721.6 429.8,721.3 430.2,721.8 430.6,721.4 431.0,721.6 431.3,721.7 431.7,721.7 432.1,721.6 432.4,721.6 432.8,721.7 433.2,721.6 433.5,721.9 433.9,721.9 434.3,722.0 434.7,721.8 435.0,721.8 435.4,721.8 435.8,721.6 436.1,722.0 436.5,721.8 436.9,721.6 437.2,721.4 437.6,721.7 438.0,721.5 438.4,721.4 438.7,722.0 439.1,721.7 439.5,722.0 439.8,721.8 440.2,721.7 440.6,722.0 440.9,721.6 441.3,721.8 441.7,721.8 442.1,721.6 442.4,721.9 442.8,722.1 443.2,721.7 443.5,721.9 443.9,721.8 444.3,722.0 444.6,721.9 445.0,721.9 445.4,722.0 445.8,721.9 446.1,721.9 446.5,721.7 446.9,721.0 447.2,721.8 447.6,722.0 448.0,721.6 448.4,722.0 448.7,721.9 449.1,721.8 449.5,721.7 449.8,721.7 450.2,721.6 450.6,721.7 450.9,721.4 451.3,721.5 451.7,721.8 452.1,721.7 452.4,721.9 452.8,721.5 453.2,721.6 453.5,721.2 453.9,721.7 454.3,721.2 454.6,721.8 455.0,721.9 455.4,721.7 455.8,721.4 456.1,721.3 456.5,721.7 456.9,721.3 457.2,721.6 457.6,721.5 458.0,721.5 458.3,721.0 458.7,721.3 459.1,721.3 459.5,721.6 459.8,721.2 460.2,721.2 460.6,720.8 460.9,721.3 461.3,720.3 461.7,721.3 462.0,721.1 462.4,720.8 462.8,721.0 463.2,720.5 463.5,720.7 463.9,720.8 464.3,720.6 464.6,720.7 465.0,720.5 465.4,719.8 465.7,719.7 466.1,719.9 466.5,719.5 466.9,718.7 467.2,718.9 467.6,718.2 468.0,717.5 468.3,717.0 468.7,716.0 469.1,714.8 469.5,712.9 469.8,710.6 470.2,706.7 470.6,701.6 470.9,695.3 471.3,686.8 471.7,678.6 472.0,672.4 472.4,670.3 472.8,672.3 473.2,676.3 473.5,680.1 473.9,683.1 474.3,686.0 474.6,690.5 475.0,696.4 475.4,702.2 475.7,706.4 476.1,710.1 476.5,712.7 476.9,714.6 477.2,715.9 477.6,717.0 478.0,717.9 478.3,718.3 478.7,718.7 479.1,718.9 479.4,719.7 479.8,719.7 480.2,720.1 480.6,720.1 480.9,720.4 481.3,721.1 481.7,720.3 482.0,720.8 482.4,721.0 482.8,721.2 483.1,721.1 483.5,721.3 483.9,721.1 484.3,721.1 484.6,721.2 485.0,721.1 485.4,721.4 485.7,721.1 486.1,721.3 486.5,721.2 486.9,721.2 487.2,721.5 487.6,721.1 488.0,721.3 488.3,721.5 488.7,721.1 489.1,721.1 489.4,721.8 489.8,722.0 490.2,721.7 490.6,721.5 490.9,721.4 491.3,721.4 491.7,721.6 492.0,721.4 492.4,721.5 492.8,721.7 493.1,721.6 493.5,721.4 493.9,721.8 494.3,721.8 494.6,721.8 495.0,721.4 495.4,721.5 495.7,721.5 496.1,721.8 496.5,721.7 496.8,721.4 497.2,721.8 497.6,721.5 498.0,721.7 498.3,721.7 498.7,721.6 499.1,721.6 499.4,721.4 499.8,721.8 500.2,721.4 500.5,721.9 500.9,721.9 501.3,722.2 501.7,721.6 502.0,721.4 502.4,722.0 502.8,721.8 503.1,721.8 503.5,722.1 503.9,721.8 504.3,721.7 504.6,721.9 505.0,722.0 505.4,721.8 505.7,721.7 506.1,722.1 506.5,721.8 506.8,721.7 507.2,722.4 507.6,721.7 508.0,721.4 508.3,722.1 508.7,721.5 509.1,721.9 509.4,721.7 509.8,721.8 510.2,722.1 510.5,722.2 510.9,721.3 511.3,722.1 511.7,721.9 512.0,721.5 512.4,721.8 512.8,721.8 513.1,722.3 513.5,722.0 513.9,722.1 514.2,720.5 514.6,721.8 515.0,721.6 515.4,722.0 515.7,722.0 516.1,721.7 516.5,721.6 516.8,722.1 517.2,721.6 517.6,721.6 517.9,721.8 518.3,722.1 518.7,721.7 519.1,721.7 519.4,721.5 519.8,722.0 520.2,721.5 520.5,721.9 520.9,721.7 521.3,721.9 521.6,721.8 522.0,721.5 522.4,722.0 522.8,721.7 523.1,721.9 523.5,721.8 523.9,722.0 524.2,721.8 524.6,722.3 525.0,721.9 525.4,721.6 525.7,721.7 526.1,722.2 526.5,722.1 526.8,721.9 527.2,721.4 527.6,721.9 527.9,721.8 528.3,721.9 528.7,721.8 529.1,722.0 529.4,721.8 529.8,721.7 530.2,721.6 530.5,722.0 530.9,721.7 531.3,721.4 531.6,721.7 532.0,721.7 532.4,722.4 532.8,721.6 533.1,721.4 533.5,721.6 533.9,721.7 534.2,722.7 534.6,721.2 535.0,722.0 535.3,721.9 535.7,721.6 536.1,721.8 536.5,722.3 536.8,721.8 537.2,721.8 537.6,722.1 537.9,721.8 538.3,721.8 538.7,722.2 539.0,721.7 539.4,721.4 539.8,721.5 540.2,722.1 540.5,722.1 540.9,721.8 541.3,721.8 541.6,722.1 542.0,722.0 542.4,720.3 542.8,721.8 543.1,721.6 543.5,721.9 543.9,721.6 544.2,722.0 544.6,722.0 545.0,722.1 545.3,722.3 545.7,721.9 546.1,722.1 546.5,722.0 546.8,721.8 547.2,721.8 547.6,721.8 547.9,721.9 548.3,721.9 548.7,721.6 549.0,721.9 549.4,721.8 549.8,722.4 550.2,722.1 550.5,721.6 550.9,722.0 551.3,722.1 551.6,721.6 552.0,722.1 552.4,721.6 552.7,721.9 553.1,722.0 553.5,722.3 553.9,721.6 554.2,722.3 554.6,722.1 555.0,721.7 555.3,722.1 555.7,721.7 556.1,721.9 556.4,721.1 556.8,722.1 557.2,722.0 557.6,721.8 557.9,722.1 558.3,721.7 558.7,721.8 559.0,721.7 559.4,721.8 559.8,721.7 560.2,721.8 560.5,721.7 560.9,721.8 561.3,721.8 561.6,722.1 562.0,722.2 562.4,721.8 562.7,721.6 563.1,722.1 563.5,722.2 563.9,722.0 564.2,721.8 564.6,721.7 565.0,721.9 565.3,722.1 565.7,721.9 566.1,721.7 566.4,721.9 566.8,721.6 567.2,722.0 567.6,721.7 567.9,721.5 568.3,722.1 568.7,722.0 569.0,721.7 569.4,721.2 569.8,721.7 570.1,721.8 570.5,721.6 570.9,721.9 571.3,722.2 571.6,722.0 572.0,721.5 572.4,722.2 572.7,722.1 573.1,721.7 573.5,721.8 573.8,721.6 574.2,722.1 574.6,722.0 575.0,721.9 575.3,722.1 575.7,721.9 576.1,721.9 576.4,721.6 576.8,721.8 577.2,721.9 577.6,721.7 577.9,721.6 578.3,721.6 578.7,721.8 579.0,721.9 579.4,721.9 579.8,722.1 580.1,721.8 580.5,721.8 580.9,721.4 581.3,721.8 581.6,721.6 582.0,721.5 582.4,722.2 582.7,721.9 583.1,721.8 583.5,721.7 583.8,722.0 584.2,721.6 584.6,721.5 585.0,721.6 585.3,721.6 585.7,721.9 586.1,721.4 586.4,721.8 586.8,722.0 587.2,721.5 587.5,721.4 587.9,721.6 588.3,721.8 588.7,721.7 589.0,721.4 589.4,721.9 589.8,721.0 590.1,721.0 590.5,721.2 590.9,720.9 591.2,721.1 591.6,721.2 592.0,720.8 592.4,720.8 592.7,721.1 593.1,721.1 593.5,721.0 593.8,720.6 594.2,720.9 594.6,720.2 594.9,721.0 595.3,720.8 595.7,720.9 596.1,721.0 596.4,720.8 596.8,721.3 597.2,721.1 597.5,721.4 597.9,721.7 598.3,721.3 598.7,721.6 599.0,721.7 599.4,721.3 599.8,721.5 600.1,721.4 600.5,721.1 600.9,721.5 601.2,721.5 601.6,721.9 602.0,721.4 602.4,721.5 602.7,721.9 603.1,721.5 603.5,721.6 603.8,721.7 604.2,721.7 604.6,721.2 604.9,721.8 605.3,721.8 605.7,721.7 606.1,721.7 606.4,722.1 606.8,721.6 607.2,721.5 607.5,721.3 607.9,721.8 608.3,722.0 608.6,721.6 609.0,721.9 609.4,721.7 609.8,721.8 610.1,721.6 610.5,721.8 610.9,721.5 611.2,721.9 611.6,721.1 612.0,721.5 612.3,720.8 612.7,721.9 613.1,721.7 613.5,721.7 613.8,721.8 614.2,721.3 614.6,721.4 614.9,721.9 615.3,721.5 615.7,721.6 616.1,721.4 616.4,721.7 616.8,721.1 617.2,721.5 617.5,721.1 617.9,721.6 618.3,721.2 618.6,721.5 619.0,721.1 619.4,721.5 619.8,721.7 620.1,721.7 620.5,721.6 620.9,721.3 621.2,721.3 621.6,721.3 622.0,721.1 622.3,721.0 622.7,721.5 623.1,721.0 623.5,720.7 623.8,721.3 624.2,721.3 624.6,721.0 624.9,721.0 625.3,721.2 625.7,721.0 626.0,720.6 626.4,720.7 626.8,721.0 627.2,721.1 627.5,720.9 627.9,720.5 628.3,720.6 628.6,720.5 629.0,720.0 629.4,720.1 629.7,720.0 630.1,719.6 630.5,719.1 630.9,719.1 631.2,718.7 631.6,718.4 632.0,717.5 632.3,717.5 632.7,716.7 633.1,715.7 633.5,714.0 633.8,712.8 634.2,711.9 634.6,710.1 634.9,708.0 635.3,706.2 635.7,704.2 636.0,703.0 636.4,702.3 636.8,701.4 637.2,701.4 637.5,702.5 637.9,703.3 638.3,703.7 638.6,704.9 639.0,705.4 639.4,706.9 639.7,707.6 640.1,708.9 640.5,709.6 640.9,709.8 641.2,709.5 641.6,707.8 642.0,703.7 642.3,698.8 642.7,693.1 643.1,693.7 643.4,699.0 643.8,704.2 644.2,707.4 644.6,708.0 644.9,707.2 645.3,705.7 645.7,706.5 646.0,709.9 646.4,713.3 646.8,715.3 647.1,717.2 647.5,717.8 647.9,718.4 648.3,718.9 648.6,719.3 649.0,719.3 649.4,719.5 649.7,719.5 650.1,719.9 650.5,719.6 650.8,719.3 651.2,719.7 651.6,719.5 652.0,719.4 652.3,718.9 652.7,719.2 653.1,718.0 653.4,717.5 653.8,716.7 654.2,715.3 654.6,713.3 654.9,711.1 655.3,708.4 655.7,705.5 656.0,703.8 656.4,703.2 656.8,704.1 657.1,705.9 657.5,707.4 657.9,708.3 658.3,708.5 658.6,709.5 659.0,710.3 659.4,711.8 659.7,713.5 660.1,715.4 660.5,716.7 660.8,717.3 661.2,718.4 661.6,719.3 662.0,719.4 662.3,719.9 662.7,719.9 663.1,720.8 663.4,720.5 663.8,720.5 664.2,721.1 664.5,721.1 664.9,720.9 665.3,721.0 665.7,721.2 666.0,721.1 666.4,721.5 666.8,721.4 667.1,720.9 667.5,721.5 667.9,721.3 668.2,721.4 668.6,721.2 669.0,721.4 669.4,721.4 669.7,721.2 670.1,721.4 670.5,721.9 670.8,721.7 671.2,721.2 671.6,721.3 672.0,721.6 672.3,721.9 672.7,721.8 673.1,721.2 673.4,721.4 673.8,721.4 674.2,722.0 674.5,721.9 674.9,721.8 675.3,722.0 675.7,721.6 676.0,721.9 676.4,721.9 676.8,721.7 677.1,721.8 677.5,721.6 677.9,721.6 678.2,721.3 678.6,721.6 679.0,721.7 679.4,722.1 679.7,722.1 680.1,721.9 680.5,721.7 680.8,721.4 681.2,721.7 681.6,722.0 681.9,721.9 682.3,722.0 682.7,721.8 683.1,721.8 683.4,721.8 683.8,721.7 684.2,721.5 684.5,721.6 684.9,722.0 685.3,721.6 685.6,722.0 686.0,721.7 686.4,721.8 686.8,721.4 687.1,721.8 687.5,721.8 687.9,721.8 688.2,721.6 688.6,721.7 689.0,721.8 689.4,721.6 689.7,721.3 690.1,721.4 690.5,721.5 690.8,721.9 691.2,721.8 691.6,721.8 691.9,722.2 692.3,721.4 692.7,722.1 693.1,721.7 693.4,722.1 693.8,721.8 694.2,721.6 694.5,721.7 694.9,722.0 695.3,721.9 695.6,721.6 696.0,721.8 696.4,721.8 696.8,721.6 697.1,722.4 697.5,721.8 697.9,721.5 698.2,721.4 698.6,721.7 699.0,722.0 699.3,721.6 699.7,721.4 700.1,722.0 700.5,722.0 700.8,721.9 701.2,721.9 701.6,722.3 701.9,722.3 702.3,722.1 702.7,722.0 703.0,721.7 703.4,721.9 703.8,721.8 704.2,721.5 704.5,721.2 704.9,721.6 705.3,722.0 705.6,721.6 706.0,721.8 706.4,721.7 706.7,721.6 707.1,721.7 707.5,722.1 707.9,722.1 708.2,721.8 708.6,721.7 709.0,721.4 709.3,721.7 709.7,721.9 710.1,721.9 710.5,722.0 710.8,722.1 711.2,722.1 711.6,721.9 711.9,721.8 712.3,722.0 712.7,721.8 713.0,721.9 713.4,721.6 713.8,721.9 714.2,721.8 714.5,721.8 714.9,722.4 715.3,721.8 715.6,721.8 716.0,722.0 716.4,721.8 716.7,722.0 717.1,721.8 717.5,722.0 717.9,721.7 718.2,721.7 718.6,722.1 719.0,722.0 719.3,721.7 719.7,721.7 720.1,721.8 720.4,722.0 720.8,721.9 721.2,721.8 721.6,721.7 721.9,721.8 722.3,722.0 722.7,721.8 723.0,721.9 723.4,722.0 723.8,722.0 724.1,721.9 724.5,722.0 724.9,721.5 725.3,721.4 725.6,721.4 726.0,721.7 726.4,721.6 726.7,721.3 727.1,721.4 727.5,721.3 727.9,721.3 728.2,721.5 728.6,720.8 729.0,721.3 729.3,721.3 729.7,720.7 730.1,721.1 730.4,720.6 730.8,720.8 731.2,720.8 731.6,720.9 731.9,721.2 732.3,721.2 732.7,721.0 733.0,721.1 733.4,721.4 733.8,721.4 734.1,721.4 734.5,721.3 734.9,721.3 735.3,721.3 735.6,721.6 736.0,721.2 736.4,721.4 736.7,721.3 737.1,721.8 737.5,721.5 737.8,721.5 738.2,722.1 738.6,721.5 739.0,721.6 739.3,721.5 739.7,721.7 740.1,721.5 740.4,721.9 740.8,721.9 741.2,721.6 741.5,721.6 741.9,722.1 742.3,721.5 742.7,721.5 743.0,721.5 743.4,721.9 743.8,721.5 744.1,721.7 744.5,721.6 744.9,721.8 745.3,721.8 745.6,721.9 746.0,721.9 746.4,721.6 746.7,721.9 747.1,721.9 747.5,721.7 747.8,721.8 748.2,722.2 748.6,721.9 749.0,721.8 749.3,721.4 749.7,721.6 750.1,721.9 750.4,721.9 750.8,721.8 751.2,721.6 751.5,721.8 751.9,721.6 752.3,721.9 752.7,721.6 753.0,721.4 753.4,722.2 753.8,721.6 754.1,721.5 754.5,721.5 754.9,721.5 755.2,721.5 755.6,721.4 756.0,721.5 756.4,721.4 756.7,721.1 757.1,721.2 757.5,721.2 757.8,721.5 758.2,721.4 758.6,721.0 758.9,721.4 759.3,720.9 759.7,721.3 760.1,720.5 760.4,720.6 760.8,720.9 761.2,720.7 761.5,720.9 761.9,720.3 762.3,719.7 762.7,719.5 763.0,719.3 763.4,718.3 763.8,718.0 764.1,717.2 764.5,716.4 764.9,715.0 765.2,713.2 765.6,712.3 766.0,711.3 766.4,709.8 766.7,708.8 767.1,708.9 767.5,709.7 767.8,710.2 768.2,711.2 768.6,711.4 768.9,712.2 769.3,712.6 769.7,713.2 770.1,714.0 770.4,714.4 770.8,715.4 771.2,716.8 771.5,717.5 771.9,717.9 772.3,718.9 772.6,719.4 773.0,719.9 773.4,719.7 773.8,720.3 774.1,720.5 774.5,720.8 774.9,721.0 775.2,720.7 775.6,721.2 776.0,721.2 776.3,721.5 776.7,721.4 777.1,721.4 777.5,721.4 777.8,721.7 778.2,721.5 778.6,721.5 778.9,722.0 779.3,721.4 779.7,721.6 780.0,721.8 780.4,721.6 780.8,721.5 781.2,721.6 781.5,721.6 781.9,719.2 782.3,721.5 782.6,721.9 783.0,721.8 783.4,721.6 783.8,721.7 784.1,721.9 784.5,721.8 784.9,721.9 785.2,721.7 785.6,722.1 786.0,722.1 786.3,722.0 786.7,721.8 787.1,721.2 787.5,721.5 787.8,721.5 788.2,721.8 788.6,721.4 788.9,721.7 789.3,721.8 789.7,721.6 790.0,722.0 790.4,722.3 790.8,722.0 791.2,721.5 791.5,723.0 791.9,721.8 792.3,721.9 792.6,721.8 793.0,721.7 793.4,722.0 793.7,721.7 794.1,722.0 794.5,721.5 794.9,721.9 795.2,722.0 795.6,721.9 796.0,722.0 796.3,721.9 796.7,722.2 797.1,721.9 797.4,721.8 797.8,721.8 798.2,721.9 798.6,721.6 798.9,722.2 799.3,721.9" fill="none" stroke="#525252" stroke-width="3.9" stroke-linejoin="round"/>
<rect x="58.9" y="2.4" width="740.4" height="747.8" fill="none" stroke="#000" stroke-width="2.9"/>
<line x1="58.9" y1="750.2" x2="58.9" y2="757.9000000000001" stroke="#000" stroke-width="2.9"/>
<text x="58.9" y="784.0" font-size="27" text-anchor="middle" >20</text>
<line x1="151.4" y1="750.2" x2="151.4" y2="757.9000000000001" stroke="#000" stroke-width="2.9"/>
<text x="151.4" y="784.0" font-size="27" text-anchor="middle" >25</text>
<line x1="244.0" y1="750.2" x2="244.0" y2="757.9000000000001" stroke="#000" stroke-width="2.9"/>
<text x="244.0" y="784.0" font-size="27" text-anchor="middle" >30</text>
<line x1="336.5" y1="750.2" x2="336.5" y2="757.9000000000001" stroke="#000" stroke-width="2.9"/>
<text x="336.5" y="784.0" font-size="27" text-anchor="middle" >35</text>
<line x1="429.1" y1="750.2" x2="429.1" y2="757.9000000000001" stroke="#000" stroke-width="2.9"/>
<text x="429.1" y="784.0" font-size="27" text-anchor="middle" >40</text>
<line x1="521.6" y1="750.2" x2="521.6" y2="757.9000000000001" stroke="#000" stroke-width="2.9"/>
<text x="521.6" y="784.0" font-size="27" text-anchor="middle" >45</text>
<line x1="614.2" y1="750.2" x2="614.2" y2="757.9000000000001" stroke="#000" stroke-width="2.9"/>
<text x="614.2" y="784.0" font-size="27" text-anchor="middle" >50</text>
<line x1="706.8" y1="750.2" x2="706.8" y2="757.9000000000001" stroke="#000" stroke-width="2.9"/>
<text x="706.8" y="784.0" font-size="27" text-anchor="middle" >55</text>
<line x1="799.3" y1="750.2" x2="799.3" y2="757.9000000000001" stroke="#000" stroke-width="2.9"/>
<text x="799.3" y="784.0" font-size="27" text-anchor="middle" >60</text>
<line x1="105.2" y1="750.2" x2="105.2" y2="753.8000000000001" stroke="#000" stroke-width="2.9"/>
<line x1="197.7" y1="750.2" x2="197.7" y2="753.8000000000001" stroke="#000" stroke-width="2.9"/>
<line x1="290.3" y1="750.2" x2="290.3" y2="753.8000000000001" stroke="#000" stroke-width="2.9"/>
<line x1="382.8" y1="750.2" x2="382.8" y2="753.8000000000001" stroke="#000" stroke-width="2.9"/>
<line x1="475.4" y1="750.2" x2="475.4" y2="753.8000000000001" stroke="#000" stroke-width="2.9"/>
<line x1="567.9" y1="750.2" x2="567.9" y2="753.8000000000001" stroke="#000" stroke-width="2.9"/>
<line x1="660.5" y1="750.2" x2="660.5" y2="753.8000000000001" stroke="#000" stroke-width="2.9"/>
<line x1="753.0" y1="750.2" x2="753.0" y2="753.8000000000001" stroke="#000" stroke-width="2.9"/>
<text x="-0.5" y="35.2" font-size="37" text-anchor="start" >(a)</text>
<text x="71.0" y="39.1" font-size="28.2" text-anchor="start" >Mn<tspan font-size="19.5" dy="7.4">55</tspan><tspan dy="-7.4">Bi</tspan><tspan font-size="19.5" dy="7.4">45</tspan><tspan dy="-7.4"> ribbon</tspan></text>
<text x="366.4" y="825.2" font-size="32.8" text-anchor="start" >2</text>
<text transform="translate(381.4,825.2) scale(1.4,1)" font-size="32.8" font-weight="normal">θ</text>
<text x="409.1" y="825.2" font-size="32.8" text-anchor="start" >(degree)</text>
<text transform="translate(41.7,370.2) rotate(-90)" font-size="33" text-anchor="middle">Intensity (a.u.)</text>
<path d="M528.5,26.8 L534.5,34.5 L528.5,42.2 L522.5,34.5Z" fill="#000"/>
<text x="549.5" y="42.9" font-size="29.3" text-anchor="start" font-style="italic">MnBi</text>
<circle cx="643.0" cy="34.5" r="6.5" fill="#000"/>
<text x="657.0" y="42.9" font-size="29.3" text-anchor="start" font-style="italic">Bi</text>
<rect x="700.5" y="30.0" width="13" height="13" fill="#000"/>
<text x="723.0" y="42.9" font-size="29.3" text-anchor="start" font-style="italic">Mn</text>
<path d="M136.4,190.4 L142.3,198.1 L136.4,205.8 L130.5,198.1Z" fill="#000"/>
<path d="M212.6,61.8 L218.5,69.4 L212.6,77.1 L206.7,69.4Z" fill="#000"/>
<path d="M231.7,189.2 L237.6,196.9 L231.7,204.6 L225.8,196.9Z" fill="#000"/>
<path d="M396.7,148.8 L402.6,156.4 L396.7,164.1 L390.8,156.4Z" fill="#000"/>
<path d="M471.3,135.0 L477.2,142.7 L471.3,150.3 L465.4,142.7Z" fill="#000"/>
<path d="M636.6,179.0 L642.5,186.7 L636.6,194.3 L630.7,186.7Z" fill="#000"/>
<path d="M645.2,168.2 L651.1,175.8 L645.2,183.5 L639.3,175.8Z" fill="#000"/>
<path d="M657.6,182.0 L663.5,189.7 L657.6,197.3 L651.7,189.7Z" fill="#000"/>
<path d="M767.6,184.8 L773.5,192.5 L767.6,200.2 L761.7,192.5Z" fill="#000"/>
<circle cx="195.0" cy="188.8" r="5.9" fill="#000"/>
<circle cx="426.0" cy="198.4" r="5.9" fill="#000"/>
<rect x="484.3" y="205.3" width="10.7" height="10.7" fill="#000"/>
<text x="683.0" y="153.7" font-size="26.5" text-anchor="start" >200 rpm</text>
<text x="680.0" y="315.0" font-size="26.5" text-anchor="start" >175 rpm</text>
<text x="683.0" y="476.5" font-size="26.5" text-anchor="start" >150 rpm</text>
<text x="683.1" y="642.7" font-size="26.5" text-anchor="start" >Crushed</text>
<line x1="1034.6" y1="57.8" x2="1212.9" y2="207.1" stroke="#f63d42" stroke-width="6.1" stroke-linecap="round"/>
<line x1="1257.8" y1="228.8" x2="1425.7" y2="262.9" stroke="#f63d42" stroke-width="6.1" stroke-linecap="round"/>
<line x1="1475.9" y1="274.4" x2="1644.0" y2="317.2" stroke="#f63d42" stroke-width="6.1" stroke-linecap="round"/>
<circle cx="1014.9" cy="41.3" r="17.2" fill="url(#gr)"/>
<circle cx="1232.6" cy="223.7" r="17.2" fill="url(#gr)"/>
<circle cx="1451.0" cy="268.1" r="17.2" fill="url(#gr)"/>
<circle cx="1669.0" cy="323.5" r="17.2" fill="url(#gr)"/>
<line x1="1034.5" y1="426.4" x2="1213.0" y2="579.4" stroke="#1b70e6" stroke-width="6.1" stroke-linecap="round"/>
<line x1="1256.8" y1="604.9" x2="1426.7" y2="666.2" stroke="#1b70e6" stroke-width="6.1" stroke-linecap="round"/>
<line x1="1476.4" y1="678.9" x2="1643.5" y2="704.6" stroke="#1b70e6" stroke-width="6.1" stroke-linecap="round"/>
<circle cx="1014.9" cy="409.7" r="17.2" fill="url(#gb)"/>
<circle cx="1232.6" cy="596.1" r="17.2" fill="url(#gb)"/>
<circle cx="1451.0" cy="675.0" r="17.2" fill="url(#gb)"/>
<circle cx="1669.0" cy="708.5" r="17.2" fill="url(#gb)"/>
<rect x="971.10" y="2.80" width="741.55" height="368.05" fill="none" stroke="#000" stroke-width="3.4"/>
<line x1="971.10" y1="1.10" x2="971.10" y2="372.55" stroke="#000" stroke-width="3.8"/>
<rect x="971.10" y="380.80" width="741.55" height="368.60" fill="none" stroke="#000" stroke-width="3.4"/>
<line x1="971.10" y1="379.10" x2="971.10" y2="751.10" stroke="#000" stroke-width="3.8"/>
<line x1="1058.3" y1="2.8" x2="1058.3" y2="10.8" stroke="#000" stroke-width="3.3"/>
<line x1="1145.6" y1="2.8" x2="1145.6" y2="10.8" stroke="#000" stroke-width="3.3"/>
<line x1="1232.8" y1="2.8" x2="1232.8" y2="10.8" stroke="#000" stroke-width="3.3"/>
<line x1="1320.1" y1="2.8" x2="1320.1" y2="10.8" stroke="#000" stroke-width="3.3"/>
<line x1="1407.3" y1="2.8" x2="1407.3" y2="10.8" stroke="#000" stroke-width="3.3"/>
<line x1="1494.5" y1="2.8" x2="1494.5" y2="10.8" stroke="#000" stroke-width="3.3"/>
<line x1="1581.8" y1="2.8" x2="1581.8" y2="10.8" stroke="#000" stroke-width="3.3"/>
<line x1="1669.0" y1="2.8" x2="1669.0" y2="10.8" stroke="#000" stroke-width="3.3"/>
<line x1="1014.7" y1="2.8" x2="1014.7" y2="7.3" stroke="#000" stroke-width="3.3"/>
<line x1="1102.0" y1="2.8" x2="1102.0" y2="7.3" stroke="#000" stroke-width="3.3"/>
<line x1="1189.2" y1="2.8" x2="1189.2" y2="7.3" stroke="#000" stroke-width="3.3"/>
<line x1="1276.4" y1="2.8" x2="1276.4" y2="7.3" stroke="#000" stroke-width="3.3"/>
<line x1="1363.7" y1="2.8" x2="1363.7" y2="7.3" stroke="#000" stroke-width="3.3"/>
<line x1="1450.9" y1="2.8" x2="1450.9" y2="7.3" stroke="#000" stroke-width="3.3"/>
<line x1="1538.2" y1="2.8" x2="1538.2" y2="7.3" stroke="#000" stroke-width="3.3"/>
<line x1="1625.4" y1="2.8" x2="1625.4" y2="7.3" stroke="#000" stroke-width="3.3"/>
<line x1="1058.3" y1="370.85" x2="1058.3" y2="362.85" stroke="#000" stroke-width="3.3"/>
<line x1="1145.6" y1="370.85" x2="1145.6" y2="362.85" stroke="#000" stroke-width="3.3"/>
<line x1="1232.8" y1="370.85" x2="1232.8" y2="362.85" stroke="#000" stroke-width="3.3"/>
<line x1="1320.1" y1="370.85" x2="1320.1" y2="362.85" stroke="#000" stroke-width="3.3"/>
<line x1="1407.3" y1="370.85" x2="1407.3" y2="362.85" stroke="#000" stroke-width="3.3"/>
<line x1="1494.5" y1="370.85" x2="1494.5" y2="362.85" stroke="#000" stroke-width="3.3"/>
<line x1="1581.8" y1="370.85" x2="1581.8" y2="362.85" stroke="#000" stroke-width="3.3"/>
<line x1="1669.0" y1="370.85" x2="1669.0" y2="362.85" stroke="#000" stroke-width="3.3"/>
<line x1="1014.7" y1="370.85" x2="1014.7" y2="366.35" stroke="#000" stroke-width="3.3"/>
<line x1="1102.0" y1="370.85" x2="1102.0" y2="366.35" stroke="#000" stroke-width="3.3"/>
<line x1="1189.2" y1="370.85" x2="1189.2" y2="366.35" stroke="#000" stroke-width="3.3"/>
<line x1="1276.4" y1="370.85" x2="1276.4" y2="366.35" stroke="#000" stroke-width="3.3"/>
<line x1="1363.7" y1="370.85" x2="1363.7" y2="366.35" stroke="#000" stroke-width="3.3"/>
<line x1="1450.9" y1="370.85" x2="1450.9" y2="366.35" stroke="#000" stroke-width="3.3"/>
<line x1="1538.2" y1="370.85" x2="1538.2" y2="366.35" stroke="#000" stroke-width="3.3"/>
<line x1="1625.4" y1="370.85" x2="1625.4" y2="366.35" stroke="#000" stroke-width="3.3"/>
<line x1="971.1" y1="344.6" x2="979.1" y2="344.6" stroke="#000" stroke-width="3.3"/>
<line x1="971.1" y1="213.1" x2="979.1" y2="213.1" stroke="#000" stroke-width="3.3"/>
<line x1="971.1" y1="81.7" x2="979.1" y2="81.7" stroke="#000" stroke-width="3.3"/>
<line x1="971.1" y1="278.8" x2="975.6" y2="278.8" stroke="#000" stroke-width="3.3"/>
<line x1="971.1" y1="147.4" x2="975.6" y2="147.4" stroke="#000" stroke-width="3.3"/>
<line x1="971.1" y1="15.9" x2="975.6" y2="15.9" stroke="#000" stroke-width="3.3"/>
<line x1="1712.65" y1="344.6" x2="1704.65" y2="344.6" stroke="#000" stroke-width="3.3"/>
<line x1="1712.65" y1="213.1" x2="1704.65" y2="213.1" stroke="#000" stroke-width="3.3"/>
<line x1="1712.65" y1="81.7" x2="1704.65" y2="81.7" stroke="#000" stroke-width="3.3"/>
<line x1="1712.65" y1="278.8" x2="1708.15" y2="278.8" stroke="#000" stroke-width="3.3"/>
<line x1="1712.65" y1="147.4" x2="1708.15" y2="147.4" stroke="#000" stroke-width="3.3"/>
<line x1="1712.65" y1="15.9" x2="1708.15" y2="15.9" stroke="#000" stroke-width="3.3"/>
<text x="962.0" y="352.4" font-size="27" text-anchor="end" >85</text>
<text x="962.0" y="220.9" font-size="27" text-anchor="end" >90</text>
<text x="962.0" y="89.5" font-size="27" text-anchor="end" >95</text>
<line x1="1014.7" y1="380.8" x2="1014.7" y2="388.8" stroke="#000" stroke-width="3.3"/>
<line x1="1232.8" y1="380.8" x2="1232.8" y2="388.8" stroke="#000" stroke-width="3.3"/>
<line x1="1450.9" y1="380.8" x2="1450.9" y2="388.8" stroke="#000" stroke-width="3.3"/>
<line x1="1669.0" y1="380.8" x2="1669.0" y2="388.8" stroke="#000" stroke-width="3.3"/>
<line x1="1123.8" y1="380.8" x2="1123.8" y2="385.3" stroke="#000" stroke-width="3.3"/>
<line x1="1341.9" y1="380.8" x2="1341.9" y2="385.3" stroke="#000" stroke-width="3.3"/>
<line x1="1560.0" y1="380.8" x2="1560.0" y2="385.3" stroke="#000" stroke-width="3.3"/>
<line x1="1014.7" y1="749.4" x2="1014.7" y2="741.4" stroke="#000" stroke-width="3.3"/>
<line x1="1232.8" y1="749.4" x2="1232.8" y2="741.4" stroke="#000" stroke-width="3.3"/>
<line x1="1450.9" y1="749.4" x2="1450.9" y2="741.4" stroke="#000" stroke-width="3.3"/>
<line x1="1669.0" y1="749.4" x2="1669.0" y2="741.4" stroke="#000" stroke-width="3.3"/>
<line x1="1123.8" y1="749.4" x2="1123.8" y2="744.9" stroke="#000" stroke-width="3.3"/>
<line x1="1341.9" y1="749.4" x2="1341.9" y2="744.9" stroke="#000" stroke-width="3.3"/>
<line x1="1560.0" y1="749.4" x2="1560.0" y2="744.9" stroke="#000" stroke-width="3.3"/>
<line x1="971.1" y1="749.4" x2="979.1" y2="749.4" stroke="#000" stroke-width="3.3"/>
<line x1="971.1" y1="688.0" x2="979.1" y2="688.0" stroke="#000" stroke-width="3.3"/>
<line x1="971.1" y1="626.5" x2="979.1" y2="626.5" stroke="#000" stroke-width="3.3"/>
<line x1="971.1" y1="565.1" x2="979.1" y2="565.1" stroke="#000" stroke-width="3.3"/>
<line x1="971.1" y1="503.7" x2="979.1" y2="503.7" stroke="#000" stroke-width="3.3"/>
<line x1="971.1" y1="442.2" x2="979.1" y2="442.2" stroke="#000" stroke-width="3.3"/>
<line x1="971.1" y1="380.8" x2="979.1" y2="380.8" stroke="#000" stroke-width="3.3"/>
<line x1="971.1" y1="718.7" x2="975.6" y2="718.7" stroke="#000" stroke-width="3.3"/>
<line x1="971.1" y1="657.2" x2="975.6" y2="657.2" stroke="#000" stroke-width="3.3"/>
<line x1="971.1" y1="595.8" x2="975.6" y2="595.8" stroke="#000" stroke-width="3.3"/>
<line x1="971.1" y1="534.4" x2="975.6" y2="534.4" stroke="#000" stroke-width="3.3"/>
<line x1="971.1" y1="472.9" x2="975.6" y2="472.9" stroke="#000" stroke-width="3.3"/>
<line x1="971.1" y1="411.5" x2="975.6" y2="411.5" stroke="#000" stroke-width="3.3"/>
<line x1="1712.65" y1="749.4" x2="1704.65" y2="749.4" stroke="#000" stroke-width="3.3"/>
<line x1="1712.65" y1="688.0" x2="1704.65" y2="688.0" stroke="#000" stroke-width="3.3"/>
<line x1="1712.65" y1="626.5" x2="1704.65" y2="626.5" stroke="#000" stroke-width="3.3"/>
<line x1="1712.65" y1="565.1" x2="1704.65" y2="565.1" stroke="#000" stroke-width="3.3"/>
<line x1="1712.65" y1="503.7" x2="1704.65" y2="503.7" stroke="#000" stroke-width="3.3"/>
<line x1="1712.65" y1="442.2" x2="1704.65" y2="442.2" stroke="#000" stroke-width="3.3"/>
<line x1="1712.65" y1="380.8" x2="1704.65" y2="380.8" stroke="#000" stroke-width="3.3"/>
<line x1="1712.65" y1="718.7" x2="1708.15" y2="718.7" stroke="#000" stroke-width="3.3"/>
<line x1="1712.65" y1="657.2" x2="1708.15" y2="657.2" stroke="#000" stroke-width="3.3"/>
<line x1="1712.65" y1="595.8" x2="1708.15" y2="595.8" stroke="#000" stroke-width="3.3"/>
<line x1="1712.65" y1="534.4" x2="1708.15" y2="534.4" stroke="#000" stroke-width="3.3"/>
<line x1="1712.65" y1="472.9" x2="1708.15" y2="472.9" stroke="#000" stroke-width="3.3"/>
<line x1="1712.65" y1="411.5" x2="1708.15" y2="411.5" stroke="#000" stroke-width="3.3"/>
<text x="962.5" y="757.2" font-size="27" text-anchor="end" >0</text>
<text x="962.5" y="695.8" font-size="27" text-anchor="end" >5</text>
<text x="962.5" y="634.3" font-size="27" text-anchor="end" >10</text>
<text x="962.5" y="572.9" font-size="27" text-anchor="end" >15</text>
<text x="962.5" y="511.5" font-size="27" text-anchor="end" >20</text>
<text x="962.5" y="450.0" font-size="27" text-anchor="end" >25</text>
<text x="962.5" y="388.6" font-size="27" text-anchor="end" >30</text>
<text x="1014.7" y="778.5" font-size="27" text-anchor="middle" >125</text>
<text x="1232.8" y="778.5" font-size="27" text-anchor="middle" >150</text>
<text x="1450.9" y="778.5" font-size="27" text-anchor="middle" >175</text>
<text x="1669.0" y="778.5" font-size="27" text-anchor="middle" >200</text>
<text x="1173.6" y="815.6" font-size="32.5" text-anchor="start" >Ball milling speed (rpm)</text>
<text x="841.0" y="34.6" font-size="37" text-anchor="start" >(b)</text>
<text x="841.0" y="402.2" font-size="37" text-anchor="start" >(c)</text>
<text transform="translate(920,185.9) rotate(-90)" font-size="33" text-anchor="middle">LTP content (<tspan font-style="italic">wt.</tspan>%)</text>
<text transform="translate(918.4,565.2) rotate(-90)" font-size="33" text-anchor="middle">Average particle size (μm)</text>
<rect x="1434.2" y="25.5" width="234.8" height="189.3" fill="#fff" stroke="#222" stroke-width="1.6"/>
<line x1="1471.3" y1="194.4" x2="1514.4" y2="167.7" stroke="#8a8a8a" stroke-width="3" stroke-linecap="round"/>
<line x1="1530.2" y1="157.8" x2="1572.7" y2="130.8" stroke="#8a8a8a" stroke-width="3" stroke-linecap="round"/>
<line x1="1587.7" y1="119.9" x2="1632.1" y2="83.0" stroke="#8a8a8a" stroke-width="3" stroke-linecap="round"/>
<circle cx="1463.4" cy="199.3" r="6.3" fill="url(#gg)"/>
<circle cx="1522.3" cy="162.8" r="6.3" fill="url(#gg)"/>
<circle cx="1580.6" cy="125.8" r="6.3" fill="url(#gg)"/>
<circle cx="1639.2" cy="77.1" r="6.3" fill="url(#gg)"/>
<text x="1429.7" y="190.2" font-size="16" text-anchor="end" >0.05</text>
<text x="1429.7" y="137.1" font-size="16" text-anchor="end" >0.10</text>
<text x="1429.7" y="84.0" font-size="16" text-anchor="end" >0.15</text>
<text x="1429.7" y="30.9" font-size="16" text-anchor="end" >0.20</text>
<text x="1463.2" y="231.7" font-size="16" text-anchor="middle" >crashed</text>
<text x="1522.5" y="231.7" font-size="16" text-anchor="middle" >150</text>
<text x="1580.8" y="231.7" font-size="16" text-anchor="middle" >175</text>
<text x="1638.8" y="231.7" font-size="16" text-anchor="middle" >200</text>
<text x="1551.5" y="251.1" font-size="16" text-anchor="middle" >ball milling speed(rpm)</text>
<line x1="1440" y1="46.5" x2="1467" y2="46.5" stroke="#8c8c8c" stroke-width="3" stroke-dasharray="7,14,7"/>
<circle cx="1453.8" cy="46.3" r="5.6" fill="url(#gg)"/>
<text x="1473" y="50.9" font-size="20.5">I<tspan dy="3.5" font-style="italic" font-size="21.3">Bi<tspan font-size="12.5">(</tspan>012<tspan font-size="12.5">)</tspan></tspan><tspan dy="-3.5" font-size="19">/</tspan>I<tspan dy="3.5" font-style="italic" font-size="21.5">MnBi(101)</tspan></text>
</g></svg></body></html>
